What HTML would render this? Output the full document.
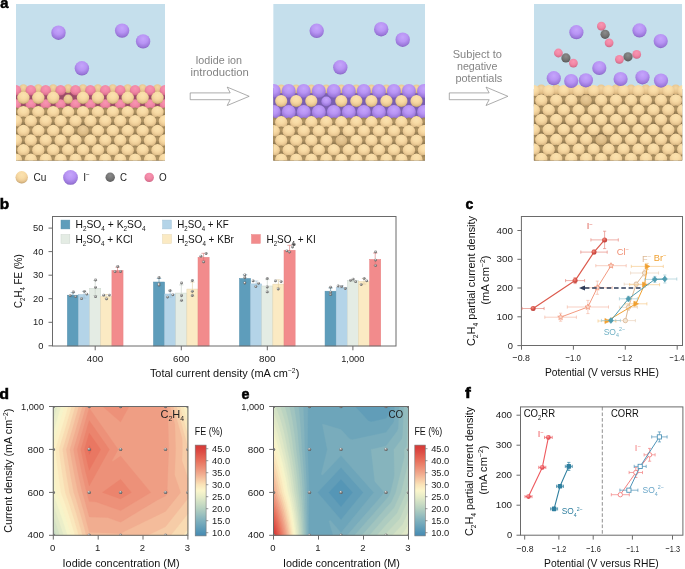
<!DOCTYPE html>
<html><head><meta charset="utf-8"><title>Figure</title>
<style>html,body{margin:0;padding:0;background:#fff}svg{display:block}text{white-space:pre}</style>
</head><body>
<svg width="685" height="569" viewBox="0 0 685 569" font-family='"Liberation Sans", Arial, Helvetica, sans-serif'>
<defs>
<radialGradient id="gcu" cx="0.5" cy="0.3" r="0.74" fx="0.5" fy="0.3"><stop offset="0" stop-color="#fbe2b0"/><stop offset="0.38" stop-color="#f8dba5"/><stop offset="0.62" stop-color="#efce99"/><stop offset="0.8" stop-color="#ddbc87"/><stop offset="0.92" stop-color="#c4a16d"/><stop offset="1" stop-color="#a08153"/></radialGradient>
<radialGradient id="gcuv" cx="0.5" cy="0.32" r="0.72" fx="0.5" fy="0.32"><stop offset="0" stop-color="#eccf9c"/><stop offset="0.6" stop-color="#dcbb86"/><stop offset="1" stop-color="#b8955f"/></radialGradient>
<radialGradient id="gcub" cx="0.5" cy="0.32" r="0.72" fx="0.5" fy="0.32"><stop offset="0" stop-color="#b59866"/><stop offset="0.6" stop-color="#917950"/><stop offset="1" stop-color="#6a5637"/></radialGradient>
<radialGradient id="gcut" cx="0.5" cy="0.32" r="0.72" fx="0.5" fy="0.32"><stop offset="0" stop-color="#f3d7a3"/><stop offset="0.6" stop-color="#e6c38c"/><stop offset="1" stop-color="#c4a06c"/></radialGradient>
<radialGradient id="go" cx="0.5" cy="0.32" r="0.72" fx="0.5" fy="0.32"><stop offset="0" stop-color="#f895b2"/><stop offset="0.5" stop-color="#f187a5"/><stop offset="0.8" stop-color="#de7392"/><stop offset="1" stop-color="#b95976"/></radialGradient>
<radialGradient id="gi" cx="0.5" cy="0.32" r="0.72" fx="0.5" fy="0.32"><stop offset="0" stop-color="#c5a5fb"/><stop offset="0.45" stop-color="#b894f4"/><stop offset="0.8" stop-color="#9b78da"/><stop offset="1" stop-color="#7d5bba"/></radialGradient>
<radialGradient id="gc" cx="0.5" cy="0.32" r="0.72" fx="0.5" fy="0.32"><stop offset="0" stop-color="#8c8c8c"/><stop offset="0.6" stop-color="#727272"/><stop offset="1" stop-color="#555555"/></radialGradient>
<radialGradient id="gd" cx="0.38" cy="0.32" r="0.7" fx="0.38" fy="0.32"><stop offset="0" stop-color="#f4f4f4"/><stop offset="0.35" stop-color="#9a9a9a"/><stop offset="1" stop-color="#555555"/></radialGradient>
</defs>
<rect width="685" height="569" fill="#fff"/>
<clipPath id="cp1"><rect x="16" y="4" width="149" height="156.6"/></clipPath>
<g clip-path="url(#cp1)">
<rect x="16" y="4" width="149" height="156.6" fill="#c5dfec"/>
<rect x="10" y="88" width="160" height="20" fill="#9c4d68"/>
<rect x="10" y="106" width="160" height="60" fill="#6f5a3a"/>
<circle cx="-6.4" cy="88.6" r="4.3" fill="url(#gcut)"/>
<circle cx="8.5" cy="88.6" r="4.3" fill="url(#gcut)"/>
<circle cx="23.4" cy="88.6" r="4.3" fill="url(#gcut)"/>
<circle cx="38.3" cy="88.6" r="4.3" fill="url(#gcut)"/>
<circle cx="53.2" cy="88.6" r="4.3" fill="url(#gcut)"/>
<circle cx="68.1" cy="88.6" r="4.3" fill="url(#gcut)"/>
<circle cx="83.0" cy="88.6" r="4.3" fill="url(#gcut)"/>
<circle cx="97.9" cy="88.6" r="4.3" fill="url(#gcut)"/>
<circle cx="112.8" cy="88.6" r="4.3" fill="url(#gcut)"/>
<circle cx="127.7" cy="88.6" r="4.3" fill="url(#gcut)"/>
<circle cx="142.6" cy="88.6" r="4.3" fill="url(#gcut)"/>
<circle cx="157.5" cy="88.6" r="4.3" fill="url(#gcut)"/>
<circle cx="172.4" cy="88.6" r="4.3" fill="url(#gcut)"/>
<circle cx="187.3" cy="88.6" r="4.3" fill="url(#gcut)"/>
<circle cx="202.2" cy="88.6" r="4.3" fill="url(#gcut)"/>
<circle cx="1.0" cy="90.2" r="5.2" fill="url(#go)"/>
<circle cx="15.9" cy="90.2" r="5.2" fill="url(#go)"/>
<circle cx="30.8" cy="90.2" r="5.2" fill="url(#go)"/>
<circle cx="45.7" cy="90.2" r="5.2" fill="url(#go)"/>
<circle cx="60.6" cy="90.2" r="5.2" fill="url(#go)"/>
<circle cx="75.5" cy="90.2" r="5.2" fill="url(#go)"/>
<circle cx="90.4" cy="90.2" r="5.2" fill="url(#go)"/>
<circle cx="105.3" cy="90.2" r="5.2" fill="url(#go)"/>
<circle cx="120.2" cy="90.2" r="5.2" fill="url(#go)"/>
<circle cx="135.1" cy="90.2" r="5.2" fill="url(#go)"/>
<circle cx="150.0" cy="90.2" r="5.2" fill="url(#go)"/>
<circle cx="164.9" cy="90.2" r="5.2" fill="url(#go)"/>
<circle cx="179.8" cy="90.2" r="5.2" fill="url(#go)"/>
<circle cx="194.7" cy="90.2" r="5.2" fill="url(#go)"/>
<circle cx="209.6" cy="90.2" r="5.2" fill="url(#go)"/>
<circle cx="1.0" cy="104.5" r="5.2" fill="url(#go)"/>
<circle cx="15.9" cy="104.5" r="5.2" fill="url(#go)"/>
<circle cx="30.8" cy="104.5" r="5.2" fill="url(#go)"/>
<circle cx="45.7" cy="104.5" r="5.2" fill="url(#go)"/>
<circle cx="60.6" cy="104.5" r="5.2" fill="url(#go)"/>
<circle cx="75.5" cy="104.5" r="5.2" fill="url(#go)"/>
<circle cx="90.4" cy="104.5" r="5.2" fill="url(#go)"/>
<circle cx="105.3" cy="104.5" r="5.2" fill="url(#go)"/>
<circle cx="120.2" cy="104.5" r="5.2" fill="url(#go)"/>
<circle cx="135.1" cy="104.5" r="5.2" fill="url(#go)"/>
<circle cx="150.0" cy="104.5" r="5.2" fill="url(#go)"/>
<circle cx="164.9" cy="104.5" r="5.2" fill="url(#go)"/>
<circle cx="179.8" cy="104.5" r="5.2" fill="url(#go)"/>
<circle cx="194.7" cy="104.5" r="5.2" fill="url(#go)"/>
<circle cx="209.6" cy="104.5" r="5.2" fill="url(#go)"/>
<circle cx="-6.4" cy="97.8" r="6.2" fill="url(#gcu)"/>
<circle cx="8.5" cy="97.8" r="6.2" fill="url(#gcu)"/>
<circle cx="23.4" cy="97.8" r="6.2" fill="url(#gcu)"/>
<circle cx="38.3" cy="97.8" r="6.2" fill="url(#gcu)"/>
<circle cx="53.2" cy="97.8" r="6.2" fill="url(#gcu)"/>
<circle cx="68.1" cy="99.2" r="4.6" fill="url(#gcut)"/>
<circle cx="83.0" cy="97.8" r="6.2" fill="url(#gcu)"/>
<circle cx="97.9" cy="97.8" r="6.2" fill="url(#gcu)"/>
<circle cx="112.8" cy="97.8" r="6.2" fill="url(#gcu)"/>
<circle cx="127.7" cy="97.8" r="6.2" fill="url(#gcu)"/>
<circle cx="142.6" cy="97.8" r="6.2" fill="url(#gcu)"/>
<circle cx="157.5" cy="97.8" r="6.2" fill="url(#gcu)"/>
<circle cx="172.4" cy="97.8" r="6.2" fill="url(#gcu)"/>
<circle cx="187.3" cy="97.8" r="6.2" fill="url(#gcu)"/>
<circle cx="202.2" cy="97.8" r="6.2" fill="url(#gcu)"/>
<circle cx="1.0" cy="112.6" r="5.2" fill="url(#gcub)"/>
<circle cx="15.9" cy="112.6" r="5.2" fill="url(#gcub)"/>
<circle cx="30.8" cy="112.6" r="5.2" fill="url(#gcub)"/>
<circle cx="45.7" cy="112.6" r="5.2" fill="url(#gcub)"/>
<circle cx="60.6" cy="112.6" r="5.2" fill="url(#gcub)"/>
<circle cx="75.5" cy="112.6" r="5.2" fill="url(#gcub)"/>
<circle cx="90.4" cy="112.6" r="5.2" fill="url(#gcub)"/>
<circle cx="105.3" cy="112.6" r="5.2" fill="url(#gcub)"/>
<circle cx="120.2" cy="112.6" r="5.2" fill="url(#gcub)"/>
<circle cx="135.1" cy="112.6" r="5.2" fill="url(#gcub)"/>
<circle cx="150.0" cy="112.6" r="5.2" fill="url(#gcub)"/>
<circle cx="164.9" cy="112.6" r="5.2" fill="url(#gcub)"/>
<circle cx="179.8" cy="112.6" r="5.2" fill="url(#gcub)"/>
<circle cx="194.7" cy="112.6" r="5.2" fill="url(#gcub)"/>
<circle cx="209.6" cy="112.6" r="5.2" fill="url(#gcub)"/>
<circle cx="-6.4" cy="112.1" r="6.2" fill="url(#gcu)"/>
<circle cx="8.5" cy="112.1" r="6.2" fill="url(#gcu)"/>
<circle cx="23.4" cy="112.1" r="6.2" fill="url(#gcu)"/>
<circle cx="38.3" cy="112.1" r="6.2" fill="url(#gcu)"/>
<circle cx="53.2" cy="112.1" r="6.2" fill="url(#gcu)"/>
<circle cx="68.1" cy="112.1" r="6.2" fill="url(#gcu)"/>
<circle cx="83.0" cy="112.1" r="6.2" fill="url(#gcu)"/>
<circle cx="97.9" cy="112.1" r="6.2" fill="url(#gcu)"/>
<circle cx="112.8" cy="112.1" r="6.2" fill="url(#gcu)"/>
<circle cx="127.7" cy="112.1" r="6.2" fill="url(#gcu)"/>
<circle cx="142.6" cy="112.1" r="6.2" fill="url(#gcu)"/>
<circle cx="157.5" cy="112.1" r="6.2" fill="url(#gcu)"/>
<circle cx="172.4" cy="112.1" r="6.2" fill="url(#gcu)"/>
<circle cx="187.3" cy="112.1" r="6.2" fill="url(#gcu)"/>
<circle cx="202.2" cy="112.1" r="6.2" fill="url(#gcu)"/>
<circle cx="-6.4" cy="121.7" r="5.2" fill="url(#gcub)"/>
<circle cx="8.5" cy="121.7" r="5.2" fill="url(#gcub)"/>
<circle cx="23.4" cy="121.7" r="5.2" fill="url(#gcub)"/>
<circle cx="38.3" cy="121.7" r="5.2" fill="url(#gcub)"/>
<circle cx="53.2" cy="121.7" r="5.2" fill="url(#gcub)"/>
<circle cx="68.1" cy="121.7" r="5.2" fill="url(#gcub)"/>
<circle cx="83.0" cy="121.7" r="5.2" fill="url(#gcub)"/>
<circle cx="97.9" cy="121.7" r="5.2" fill="url(#gcub)"/>
<circle cx="112.8" cy="121.7" r="5.2" fill="url(#gcub)"/>
<circle cx="127.7" cy="121.7" r="5.2" fill="url(#gcub)"/>
<circle cx="142.6" cy="121.7" r="5.2" fill="url(#gcub)"/>
<circle cx="157.5" cy="121.7" r="5.2" fill="url(#gcub)"/>
<circle cx="172.4" cy="121.7" r="5.2" fill="url(#gcub)"/>
<circle cx="187.3" cy="121.7" r="5.2" fill="url(#gcub)"/>
<circle cx="202.2" cy="121.7" r="5.2" fill="url(#gcub)"/>
<circle cx="1.0" cy="121.2" r="6.2" fill="url(#gcu)"/>
<circle cx="15.9" cy="121.2" r="6.2" fill="url(#gcu)"/>
<circle cx="30.8" cy="121.2" r="6.2" fill="url(#gcu)"/>
<circle cx="45.7" cy="121.2" r="6.2" fill="url(#gcu)"/>
<circle cx="60.6" cy="121.2" r="6.2" fill="url(#gcu)"/>
<circle cx="75.5" cy="121.2" r="6.2" fill="url(#gcu)"/>
<circle cx="90.4" cy="121.2" r="6.2" fill="url(#gcu)"/>
<circle cx="105.3" cy="121.2" r="6.2" fill="url(#gcu)"/>
<circle cx="120.2" cy="121.2" r="6.2" fill="url(#gcu)"/>
<circle cx="135.1" cy="121.2" r="6.2" fill="url(#gcu)"/>
<circle cx="150.0" cy="121.2" r="6.2" fill="url(#gcu)"/>
<circle cx="164.9" cy="121.2" r="6.2" fill="url(#gcu)"/>
<circle cx="179.8" cy="121.2" r="6.2" fill="url(#gcu)"/>
<circle cx="194.7" cy="121.2" r="6.2" fill="url(#gcu)"/>
<circle cx="209.6" cy="121.2" r="6.2" fill="url(#gcu)"/>
<circle cx="1.0" cy="131.4" r="5.2" fill="url(#gcub)"/>
<circle cx="15.9" cy="131.4" r="5.2" fill="url(#gcub)"/>
<circle cx="30.8" cy="131.4" r="5.2" fill="url(#gcub)"/>
<circle cx="45.7" cy="131.4" r="5.2" fill="url(#gcub)"/>
<circle cx="60.6" cy="131.4" r="5.2" fill="url(#gcub)"/>
<circle cx="75.5" cy="131.4" r="5.2" fill="url(#gcub)"/>
<circle cx="90.4" cy="131.4" r="5.2" fill="url(#gcub)"/>
<circle cx="105.3" cy="131.4" r="5.2" fill="url(#gcub)"/>
<circle cx="120.2" cy="131.4" r="5.2" fill="url(#gcub)"/>
<circle cx="135.1" cy="131.4" r="5.2" fill="url(#gcub)"/>
<circle cx="150.0" cy="131.4" r="5.2" fill="url(#gcub)"/>
<circle cx="164.9" cy="131.4" r="5.2" fill="url(#gcub)"/>
<circle cx="179.8" cy="131.4" r="5.2" fill="url(#gcub)"/>
<circle cx="194.7" cy="131.4" r="5.2" fill="url(#gcub)"/>
<circle cx="209.6" cy="131.4" r="5.2" fill="url(#gcub)"/>
<circle cx="-6.4" cy="130.9" r="6.2" fill="url(#gcu)"/>
<circle cx="8.5" cy="130.9" r="6.2" fill="url(#gcu)"/>
<circle cx="23.4" cy="130.9" r="6.2" fill="url(#gcu)"/>
<circle cx="38.3" cy="130.9" r="6.2" fill="url(#gcu)"/>
<circle cx="53.2" cy="130.9" r="6.2" fill="url(#gcu)"/>
<circle cx="68.1" cy="130.9" r="6.2" fill="url(#gcu)"/>
<circle cx="83.0" cy="130.9" r="5.9" fill="url(#gcuv)"/>
<circle cx="97.9" cy="130.9" r="6.2" fill="url(#gcu)"/>
<circle cx="112.8" cy="130.9" r="6.2" fill="url(#gcu)"/>
<circle cx="127.7" cy="130.9" r="6.2" fill="url(#gcu)"/>
<circle cx="142.6" cy="130.9" r="6.2" fill="url(#gcu)"/>
<circle cx="157.5" cy="130.9" r="6.2" fill="url(#gcu)"/>
<circle cx="172.4" cy="130.9" r="6.2" fill="url(#gcu)"/>
<circle cx="187.3" cy="130.9" r="6.2" fill="url(#gcu)"/>
<circle cx="202.2" cy="130.9" r="6.2" fill="url(#gcu)"/>
<circle cx="-6.4" cy="141.0" r="5.2" fill="url(#gcub)"/>
<circle cx="8.5" cy="141.0" r="5.2" fill="url(#gcub)"/>
<circle cx="23.4" cy="141.0" r="5.2" fill="url(#gcub)"/>
<circle cx="38.3" cy="141.0" r="5.2" fill="url(#gcub)"/>
<circle cx="53.2" cy="141.0" r="5.2" fill="url(#gcub)"/>
<circle cx="68.1" cy="141.0" r="5.2" fill="url(#gcub)"/>
<circle cx="83.0" cy="141.0" r="5.2" fill="url(#gcub)"/>
<circle cx="97.9" cy="141.0" r="5.2" fill="url(#gcub)"/>
<circle cx="112.8" cy="141.0" r="5.2" fill="url(#gcub)"/>
<circle cx="127.7" cy="141.0" r="5.2" fill="url(#gcub)"/>
<circle cx="142.6" cy="141.0" r="5.2" fill="url(#gcub)"/>
<circle cx="157.5" cy="141.0" r="5.2" fill="url(#gcub)"/>
<circle cx="172.4" cy="141.0" r="5.2" fill="url(#gcub)"/>
<circle cx="187.3" cy="141.0" r="5.2" fill="url(#gcub)"/>
<circle cx="202.2" cy="141.0" r="5.2" fill="url(#gcub)"/>
<circle cx="1.0" cy="140.5" r="6.2" fill="url(#gcu)"/>
<circle cx="15.9" cy="140.5" r="6.2" fill="url(#gcu)"/>
<circle cx="30.8" cy="140.5" r="6.2" fill="url(#gcu)"/>
<circle cx="45.7" cy="140.5" r="6.2" fill="url(#gcu)"/>
<circle cx="60.6" cy="140.5" r="6.2" fill="url(#gcu)"/>
<circle cx="75.5" cy="140.5" r="6.2" fill="url(#gcu)"/>
<circle cx="90.4" cy="140.5" r="6.2" fill="url(#gcu)"/>
<circle cx="105.3" cy="140.5" r="6.2" fill="url(#gcu)"/>
<circle cx="120.2" cy="140.5" r="6.2" fill="url(#gcu)"/>
<circle cx="135.1" cy="140.5" r="6.2" fill="url(#gcu)"/>
<circle cx="150.0" cy="140.5" r="6.2" fill="url(#gcu)"/>
<circle cx="164.9" cy="140.5" r="6.2" fill="url(#gcu)"/>
<circle cx="179.8" cy="140.5" r="6.2" fill="url(#gcu)"/>
<circle cx="194.7" cy="140.5" r="6.2" fill="url(#gcu)"/>
<circle cx="209.6" cy="140.5" r="6.2" fill="url(#gcu)"/>
<circle cx="1.0" cy="150.7" r="5.2" fill="url(#gcub)"/>
<circle cx="15.9" cy="150.7" r="5.2" fill="url(#gcub)"/>
<circle cx="30.8" cy="150.7" r="5.2" fill="url(#gcub)"/>
<circle cx="45.7" cy="150.7" r="5.2" fill="url(#gcub)"/>
<circle cx="60.6" cy="150.7" r="5.2" fill="url(#gcub)"/>
<circle cx="75.5" cy="150.7" r="5.2" fill="url(#gcub)"/>
<circle cx="90.4" cy="150.7" r="5.2" fill="url(#gcub)"/>
<circle cx="105.3" cy="150.7" r="5.2" fill="url(#gcub)"/>
<circle cx="120.2" cy="150.7" r="5.2" fill="url(#gcub)"/>
<circle cx="135.1" cy="150.7" r="5.2" fill="url(#gcub)"/>
<circle cx="150.0" cy="150.7" r="5.2" fill="url(#gcub)"/>
<circle cx="164.9" cy="150.7" r="5.2" fill="url(#gcub)"/>
<circle cx="179.8" cy="150.7" r="5.2" fill="url(#gcub)"/>
<circle cx="194.7" cy="150.7" r="5.2" fill="url(#gcub)"/>
<circle cx="209.6" cy="150.7" r="5.2" fill="url(#gcub)"/>
<circle cx="-6.4" cy="150.2" r="6.2" fill="url(#gcu)"/>
<circle cx="8.5" cy="150.2" r="6.2" fill="url(#gcu)"/>
<circle cx="23.4" cy="150.2" r="6.2" fill="url(#gcu)"/>
<circle cx="38.3" cy="150.2" r="6.2" fill="url(#gcu)"/>
<circle cx="53.2" cy="150.2" r="6.2" fill="url(#gcu)"/>
<circle cx="68.1" cy="150.2" r="6.2" fill="url(#gcu)"/>
<circle cx="83.0" cy="150.2" r="6.2" fill="url(#gcu)"/>
<circle cx="97.9" cy="150.2" r="6.2" fill="url(#gcu)"/>
<circle cx="112.8" cy="150.2" r="6.2" fill="url(#gcu)"/>
<circle cx="127.7" cy="150.2" r="6.2" fill="url(#gcu)"/>
<circle cx="142.6" cy="150.2" r="6.2" fill="url(#gcu)"/>
<circle cx="157.5" cy="150.2" r="6.2" fill="url(#gcu)"/>
<circle cx="172.4" cy="150.2" r="6.2" fill="url(#gcu)"/>
<circle cx="187.3" cy="150.2" r="6.2" fill="url(#gcu)"/>
<circle cx="202.2" cy="150.2" r="6.2" fill="url(#gcu)"/>
<circle cx="-6.4" cy="160.1" r="5.2" fill="url(#gcub)"/>
<circle cx="8.5" cy="160.1" r="5.2" fill="url(#gcub)"/>
<circle cx="23.4" cy="160.1" r="5.2" fill="url(#gcub)"/>
<circle cx="38.3" cy="160.1" r="5.2" fill="url(#gcub)"/>
<circle cx="53.2" cy="160.1" r="5.2" fill="url(#gcub)"/>
<circle cx="68.1" cy="160.1" r="5.2" fill="url(#gcub)"/>
<circle cx="83.0" cy="160.1" r="5.2" fill="url(#gcub)"/>
<circle cx="97.9" cy="160.1" r="5.2" fill="url(#gcub)"/>
<circle cx="112.8" cy="160.1" r="5.2" fill="url(#gcub)"/>
<circle cx="127.7" cy="160.1" r="5.2" fill="url(#gcub)"/>
<circle cx="142.6" cy="160.1" r="5.2" fill="url(#gcub)"/>
<circle cx="157.5" cy="160.1" r="5.2" fill="url(#gcub)"/>
<circle cx="172.4" cy="160.1" r="5.2" fill="url(#gcub)"/>
<circle cx="187.3" cy="160.1" r="5.2" fill="url(#gcub)"/>
<circle cx="202.2" cy="160.1" r="5.2" fill="url(#gcub)"/>
<circle cx="1.0" cy="159.6" r="6.2" fill="url(#gcu)"/>
<circle cx="15.9" cy="159.6" r="6.2" fill="url(#gcu)"/>
<circle cx="30.8" cy="159.6" r="6.2" fill="url(#gcu)"/>
<circle cx="45.7" cy="159.6" r="6.2" fill="url(#gcu)"/>
<circle cx="60.6" cy="159.6" r="6.2" fill="url(#gcu)"/>
<circle cx="75.5" cy="159.6" r="6.2" fill="url(#gcu)"/>
<circle cx="90.4" cy="159.6" r="6.2" fill="url(#gcu)"/>
<circle cx="105.3" cy="159.6" r="6.2" fill="url(#gcu)"/>
<circle cx="120.2" cy="159.6" r="6.2" fill="url(#gcu)"/>
<circle cx="135.1" cy="159.6" r="6.2" fill="url(#gcu)"/>
<circle cx="150.0" cy="159.6" r="6.2" fill="url(#gcu)"/>
<circle cx="164.9" cy="159.6" r="6.2" fill="url(#gcu)"/>
<circle cx="179.8" cy="159.6" r="6.2" fill="url(#gcu)"/>
<circle cx="194.7" cy="159.6" r="6.2" fill="url(#gcu)"/>
<circle cx="209.6" cy="159.6" r="6.2" fill="url(#gcu)"/>
</g>
<g>
<circle cx="58.5" cy="32.7" r="7.2" fill="url(#gi)"/>
<circle cx="122.1" cy="30.6" r="7.2" fill="url(#gi)"/>
<circle cx="143.1" cy="41.4" r="7.2" fill="url(#gi)"/>
<circle cx="81.9" cy="68.3" r="7.2" fill="url(#gi)"/>
</g>
<clipPath id="cp2"><rect x="273.2" y="4" width="151.8" height="156.5"/></clipPath>
<g clip-path="url(#cp2)">
<rect x="273.2" y="4" width="151.8" height="156.5" fill="#c5dfec"/>
<rect x="268" y="88" width="160" height="30" fill="#7a5fb0"/>
<rect x="268" y="116" width="160" height="50" fill="#6f5a3a"/>
<circle cx="251.1" cy="88.9" r="4.4" fill="url(#gcut)"/>
<circle cx="266.2" cy="88.9" r="4.4" fill="url(#gcut)"/>
<circle cx="281.2" cy="88.9" r="4.4" fill="url(#gcut)"/>
<circle cx="296.2" cy="88.9" r="4.4" fill="url(#gcut)"/>
<circle cx="311.3" cy="88.9" r="4.4" fill="url(#gcut)"/>
<circle cx="326.3" cy="88.9" r="4.4" fill="url(#gcut)"/>
<circle cx="341.3" cy="88.9" r="4.4" fill="url(#gcut)"/>
<circle cx="356.3" cy="88.9" r="4.4" fill="url(#gcut)"/>
<circle cx="371.4" cy="88.9" r="4.4" fill="url(#gcut)"/>
<circle cx="386.4" cy="88.9" r="4.4" fill="url(#gcut)"/>
<circle cx="401.4" cy="88.9" r="4.4" fill="url(#gcut)"/>
<circle cx="416.5" cy="88.9" r="4.4" fill="url(#gcut)"/>
<circle cx="431.5" cy="88.9" r="4.4" fill="url(#gcut)"/>
<circle cx="446.5" cy="88.9" r="4.4" fill="url(#gcut)"/>
<circle cx="461.6" cy="88.9" r="4.4" fill="url(#gcut)"/>
<circle cx="258.6" cy="91.0" r="7.0" fill="url(#gi)"/>
<circle cx="273.7" cy="91.0" r="7.0" fill="url(#gi)"/>
<circle cx="288.7" cy="91.0" r="7.0" fill="url(#gi)"/>
<circle cx="303.7" cy="91.0" r="7.0" fill="url(#gi)"/>
<circle cx="318.8" cy="91.0" r="7.0" fill="url(#gi)"/>
<circle cx="333.8" cy="91.0" r="7.0" fill="url(#gi)"/>
<circle cx="348.8" cy="91.0" r="7.0" fill="url(#gi)"/>
<circle cx="363.8" cy="91.0" r="7.0" fill="url(#gi)"/>
<circle cx="378.9" cy="91.0" r="7.0" fill="url(#gi)"/>
<circle cx="393.9" cy="91.0" r="7.0" fill="url(#gi)"/>
<circle cx="408.9" cy="91.0" r="7.0" fill="url(#gi)"/>
<circle cx="424.0" cy="91.0" r="7.0" fill="url(#gi)"/>
<circle cx="439.0" cy="91.0" r="7.0" fill="url(#gi)"/>
<circle cx="454.0" cy="91.0" r="7.0" fill="url(#gi)"/>
<circle cx="469.1" cy="91.0" r="7.0" fill="url(#gi)"/>
<circle cx="258.6" cy="112.0" r="7.0" fill="url(#gi)"/>
<circle cx="273.7" cy="112.0" r="7.0" fill="url(#gi)"/>
<circle cx="288.7" cy="112.0" r="7.0" fill="url(#gi)"/>
<circle cx="303.7" cy="112.0" r="7.0" fill="url(#gi)"/>
<circle cx="318.8" cy="112.0" r="7.0" fill="url(#gi)"/>
<circle cx="333.8" cy="112.0" r="7.0" fill="url(#gi)"/>
<circle cx="348.8" cy="112.0" r="7.0" fill="url(#gi)"/>
<circle cx="363.8" cy="112.0" r="7.0" fill="url(#gi)"/>
<circle cx="378.9" cy="112.0" r="7.0" fill="url(#gi)"/>
<circle cx="393.9" cy="112.0" r="7.0" fill="url(#gi)"/>
<circle cx="408.9" cy="112.0" r="7.0" fill="url(#gi)"/>
<circle cx="424.0" cy="112.0" r="7.0" fill="url(#gi)"/>
<circle cx="439.0" cy="112.0" r="7.0" fill="url(#gi)"/>
<circle cx="454.0" cy="112.0" r="7.0" fill="url(#gi)"/>
<circle cx="469.1" cy="112.0" r="7.0" fill="url(#gi)"/>
<circle cx="251.1" cy="101.0" r="6.1" fill="url(#gcu)"/>
<circle cx="266.2" cy="101.0" r="6.1" fill="url(#gcu)"/>
<circle cx="281.2" cy="101.0" r="6.1" fill="url(#gcu)"/>
<circle cx="296.2" cy="101.0" r="6.1" fill="url(#gcu)"/>
<circle cx="311.3" cy="101.0" r="6.1" fill="url(#gcu)"/>
<circle cx="326.3" cy="101.5" r="5.0" fill="url(#gi)"/>
<circle cx="341.3" cy="101.0" r="6.1" fill="url(#gcu)"/>
<circle cx="356.3" cy="101.0" r="6.1" fill="url(#gcu)"/>
<circle cx="371.4" cy="101.0" r="6.1" fill="url(#gcu)"/>
<circle cx="386.4" cy="101.0" r="6.1" fill="url(#gcu)"/>
<circle cx="401.4" cy="101.0" r="6.1" fill="url(#gcu)"/>
<circle cx="416.5" cy="101.0" r="6.1" fill="url(#gcu)"/>
<circle cx="431.5" cy="101.0" r="6.1" fill="url(#gcu)"/>
<circle cx="446.5" cy="101.0" r="6.1" fill="url(#gcu)"/>
<circle cx="461.6" cy="101.0" r="6.1" fill="url(#gcu)"/>
<circle cx="258.6" cy="122.8" r="5.2" fill="url(#gcub)"/>
<circle cx="273.7" cy="122.8" r="5.2" fill="url(#gcub)"/>
<circle cx="288.7" cy="122.8" r="5.2" fill="url(#gcub)"/>
<circle cx="303.7" cy="122.8" r="5.2" fill="url(#gcub)"/>
<circle cx="318.8" cy="122.8" r="5.2" fill="url(#gcub)"/>
<circle cx="333.8" cy="122.8" r="5.2" fill="url(#gcub)"/>
<circle cx="348.8" cy="122.8" r="5.2" fill="url(#gcub)"/>
<circle cx="363.8" cy="122.8" r="5.2" fill="url(#gcub)"/>
<circle cx="378.9" cy="122.8" r="5.2" fill="url(#gcub)"/>
<circle cx="393.9" cy="122.8" r="5.2" fill="url(#gcub)"/>
<circle cx="408.9" cy="122.8" r="5.2" fill="url(#gcub)"/>
<circle cx="424.0" cy="122.8" r="5.2" fill="url(#gcub)"/>
<circle cx="439.0" cy="122.8" r="5.2" fill="url(#gcub)"/>
<circle cx="454.0" cy="122.8" r="5.2" fill="url(#gcub)"/>
<circle cx="469.1" cy="122.8" r="5.2" fill="url(#gcub)"/>
<circle cx="251.1" cy="122.3" r="6.2" fill="url(#gcu)"/>
<circle cx="266.2" cy="122.3" r="6.2" fill="url(#gcu)"/>
<circle cx="281.2" cy="122.3" r="6.2" fill="url(#gcu)"/>
<circle cx="296.2" cy="122.3" r="6.2" fill="url(#gcu)"/>
<circle cx="311.3" cy="122.3" r="6.2" fill="url(#gcu)"/>
<circle cx="326.3" cy="122.3" r="6.2" fill="url(#gcu)"/>
<circle cx="341.3" cy="122.3" r="6.2" fill="url(#gcu)"/>
<circle cx="356.3" cy="122.3" r="6.2" fill="url(#gcu)"/>
<circle cx="371.4" cy="122.3" r="6.2" fill="url(#gcu)"/>
<circle cx="386.4" cy="122.3" r="6.2" fill="url(#gcu)"/>
<circle cx="401.4" cy="122.3" r="6.2" fill="url(#gcu)"/>
<circle cx="416.5" cy="122.3" r="6.2" fill="url(#gcu)"/>
<circle cx="431.5" cy="122.3" r="6.2" fill="url(#gcu)"/>
<circle cx="446.5" cy="122.3" r="6.2" fill="url(#gcu)"/>
<circle cx="461.6" cy="122.3" r="6.2" fill="url(#gcu)"/>
<circle cx="251.1" cy="131.7" r="5.2" fill="url(#gcub)"/>
<circle cx="266.2" cy="131.7" r="5.2" fill="url(#gcub)"/>
<circle cx="281.2" cy="131.7" r="5.2" fill="url(#gcub)"/>
<circle cx="296.2" cy="131.7" r="5.2" fill="url(#gcub)"/>
<circle cx="311.3" cy="131.7" r="5.2" fill="url(#gcub)"/>
<circle cx="326.3" cy="131.7" r="5.2" fill="url(#gcub)"/>
<circle cx="341.3" cy="131.7" r="5.2" fill="url(#gcub)"/>
<circle cx="356.3" cy="131.7" r="5.2" fill="url(#gcub)"/>
<circle cx="371.4" cy="131.7" r="5.2" fill="url(#gcub)"/>
<circle cx="386.4" cy="131.7" r="5.2" fill="url(#gcub)"/>
<circle cx="401.4" cy="131.7" r="5.2" fill="url(#gcub)"/>
<circle cx="416.5" cy="131.7" r="5.2" fill="url(#gcub)"/>
<circle cx="431.5" cy="131.7" r="5.2" fill="url(#gcub)"/>
<circle cx="446.5" cy="131.7" r="5.2" fill="url(#gcub)"/>
<circle cx="461.6" cy="131.7" r="5.2" fill="url(#gcub)"/>
<circle cx="258.6" cy="131.2" r="6.2" fill="url(#gcu)"/>
<circle cx="273.7" cy="131.2" r="6.2" fill="url(#gcu)"/>
<circle cx="288.7" cy="131.2" r="6.2" fill="url(#gcu)"/>
<circle cx="303.7" cy="131.2" r="6.2" fill="url(#gcu)"/>
<circle cx="318.8" cy="131.2" r="6.2" fill="url(#gcu)"/>
<circle cx="333.8" cy="131.2" r="6.2" fill="url(#gcu)"/>
<circle cx="348.8" cy="131.2" r="6.2" fill="url(#gcu)"/>
<circle cx="363.8" cy="131.2" r="6.2" fill="url(#gcu)"/>
<circle cx="378.9" cy="131.2" r="6.2" fill="url(#gcu)"/>
<circle cx="393.9" cy="131.2" r="6.2" fill="url(#gcu)"/>
<circle cx="408.9" cy="131.2" r="6.2" fill="url(#gcu)"/>
<circle cx="424.0" cy="131.2" r="6.2" fill="url(#gcu)"/>
<circle cx="439.0" cy="131.2" r="6.2" fill="url(#gcu)"/>
<circle cx="454.0" cy="131.2" r="6.2" fill="url(#gcu)"/>
<circle cx="469.1" cy="131.2" r="6.2" fill="url(#gcu)"/>
<circle cx="258.6" cy="141.2" r="5.2" fill="url(#gcub)"/>
<circle cx="273.7" cy="141.2" r="5.2" fill="url(#gcub)"/>
<circle cx="288.7" cy="141.2" r="5.2" fill="url(#gcub)"/>
<circle cx="303.7" cy="141.2" r="5.2" fill="url(#gcub)"/>
<circle cx="318.8" cy="141.2" r="5.2" fill="url(#gcub)"/>
<circle cx="333.8" cy="141.2" r="5.2" fill="url(#gcub)"/>
<circle cx="348.8" cy="141.2" r="5.2" fill="url(#gcub)"/>
<circle cx="363.8" cy="141.2" r="5.2" fill="url(#gcub)"/>
<circle cx="378.9" cy="141.2" r="5.2" fill="url(#gcub)"/>
<circle cx="393.9" cy="141.2" r="5.2" fill="url(#gcub)"/>
<circle cx="408.9" cy="141.2" r="5.2" fill="url(#gcub)"/>
<circle cx="424.0" cy="141.2" r="5.2" fill="url(#gcub)"/>
<circle cx="439.0" cy="141.2" r="5.2" fill="url(#gcub)"/>
<circle cx="454.0" cy="141.2" r="5.2" fill="url(#gcub)"/>
<circle cx="469.1" cy="141.2" r="5.2" fill="url(#gcub)"/>
<circle cx="251.1" cy="140.7" r="6.2" fill="url(#gcu)"/>
<circle cx="266.2" cy="140.7" r="6.2" fill="url(#gcu)"/>
<circle cx="281.2" cy="140.7" r="6.2" fill="url(#gcu)"/>
<circle cx="296.2" cy="140.7" r="6.2" fill="url(#gcu)"/>
<circle cx="311.3" cy="140.7" r="6.2" fill="url(#gcu)"/>
<circle cx="326.3" cy="140.7" r="6.2" fill="url(#gcu)"/>
<circle cx="341.3" cy="140.7" r="5.9" fill="url(#gcuv)"/>
<circle cx="356.3" cy="140.7" r="6.2" fill="url(#gcu)"/>
<circle cx="371.4" cy="140.7" r="6.2" fill="url(#gcu)"/>
<circle cx="386.4" cy="140.7" r="6.2" fill="url(#gcu)"/>
<circle cx="401.4" cy="140.7" r="6.2" fill="url(#gcu)"/>
<circle cx="416.5" cy="140.7" r="6.2" fill="url(#gcu)"/>
<circle cx="431.5" cy="140.7" r="6.2" fill="url(#gcu)"/>
<circle cx="446.5" cy="140.7" r="6.2" fill="url(#gcu)"/>
<circle cx="461.6" cy="140.7" r="6.2" fill="url(#gcu)"/>
<circle cx="251.1" cy="150.7" r="5.2" fill="url(#gcub)"/>
<circle cx="266.2" cy="150.7" r="5.2" fill="url(#gcub)"/>
<circle cx="281.2" cy="150.7" r="5.2" fill="url(#gcub)"/>
<circle cx="296.2" cy="150.7" r="5.2" fill="url(#gcub)"/>
<circle cx="311.3" cy="150.7" r="5.2" fill="url(#gcub)"/>
<circle cx="326.3" cy="150.7" r="5.2" fill="url(#gcub)"/>
<circle cx="341.3" cy="150.7" r="5.2" fill="url(#gcub)"/>
<circle cx="356.3" cy="150.7" r="5.2" fill="url(#gcub)"/>
<circle cx="371.4" cy="150.7" r="5.2" fill="url(#gcub)"/>
<circle cx="386.4" cy="150.7" r="5.2" fill="url(#gcub)"/>
<circle cx="401.4" cy="150.7" r="5.2" fill="url(#gcub)"/>
<circle cx="416.5" cy="150.7" r="5.2" fill="url(#gcub)"/>
<circle cx="431.5" cy="150.7" r="5.2" fill="url(#gcub)"/>
<circle cx="446.5" cy="150.7" r="5.2" fill="url(#gcub)"/>
<circle cx="461.6" cy="150.7" r="5.2" fill="url(#gcub)"/>
<circle cx="258.6" cy="150.2" r="6.2" fill="url(#gcu)"/>
<circle cx="273.7" cy="150.2" r="6.2" fill="url(#gcu)"/>
<circle cx="288.7" cy="150.2" r="6.2" fill="url(#gcu)"/>
<circle cx="303.7" cy="150.2" r="6.2" fill="url(#gcu)"/>
<circle cx="318.8" cy="150.2" r="6.2" fill="url(#gcu)"/>
<circle cx="333.8" cy="150.2" r="6.2" fill="url(#gcu)"/>
<circle cx="348.8" cy="150.2" r="6.2" fill="url(#gcu)"/>
<circle cx="363.8" cy="150.2" r="6.2" fill="url(#gcu)"/>
<circle cx="378.9" cy="150.2" r="6.2" fill="url(#gcu)"/>
<circle cx="393.9" cy="150.2" r="6.2" fill="url(#gcu)"/>
<circle cx="408.9" cy="150.2" r="6.2" fill="url(#gcu)"/>
<circle cx="424.0" cy="150.2" r="6.2" fill="url(#gcu)"/>
<circle cx="439.0" cy="150.2" r="6.2" fill="url(#gcu)"/>
<circle cx="454.0" cy="150.2" r="6.2" fill="url(#gcu)"/>
<circle cx="469.1" cy="150.2" r="6.2" fill="url(#gcu)"/>
<circle cx="258.6" cy="160.2" r="5.2" fill="url(#gcub)"/>
<circle cx="273.7" cy="160.2" r="5.2" fill="url(#gcub)"/>
<circle cx="288.7" cy="160.2" r="5.2" fill="url(#gcub)"/>
<circle cx="303.7" cy="160.2" r="5.2" fill="url(#gcub)"/>
<circle cx="318.8" cy="160.2" r="5.2" fill="url(#gcub)"/>
<circle cx="333.8" cy="160.2" r="5.2" fill="url(#gcub)"/>
<circle cx="348.8" cy="160.2" r="5.2" fill="url(#gcub)"/>
<circle cx="363.8" cy="160.2" r="5.2" fill="url(#gcub)"/>
<circle cx="378.9" cy="160.2" r="5.2" fill="url(#gcub)"/>
<circle cx="393.9" cy="160.2" r="5.2" fill="url(#gcub)"/>
<circle cx="408.9" cy="160.2" r="5.2" fill="url(#gcub)"/>
<circle cx="424.0" cy="160.2" r="5.2" fill="url(#gcub)"/>
<circle cx="439.0" cy="160.2" r="5.2" fill="url(#gcub)"/>
<circle cx="454.0" cy="160.2" r="5.2" fill="url(#gcub)"/>
<circle cx="469.1" cy="160.2" r="5.2" fill="url(#gcub)"/>
<circle cx="251.1" cy="159.7" r="6.2" fill="url(#gcu)"/>
<circle cx="266.2" cy="159.7" r="6.2" fill="url(#gcu)"/>
<circle cx="281.2" cy="159.7" r="6.2" fill="url(#gcu)"/>
<circle cx="296.2" cy="159.7" r="6.2" fill="url(#gcu)"/>
<circle cx="311.3" cy="159.7" r="6.2" fill="url(#gcu)"/>
<circle cx="326.3" cy="159.7" r="6.2" fill="url(#gcu)"/>
<circle cx="341.3" cy="159.7" r="6.2" fill="url(#gcu)"/>
<circle cx="356.3" cy="159.7" r="6.2" fill="url(#gcu)"/>
<circle cx="371.4" cy="159.7" r="6.2" fill="url(#gcu)"/>
<circle cx="386.4" cy="159.7" r="6.2" fill="url(#gcu)"/>
<circle cx="401.4" cy="159.7" r="6.2" fill="url(#gcu)"/>
<circle cx="416.5" cy="159.7" r="6.2" fill="url(#gcu)"/>
<circle cx="431.5" cy="159.7" r="6.2" fill="url(#gcu)"/>
<circle cx="446.5" cy="159.7" r="6.2" fill="url(#gcu)"/>
<circle cx="461.6" cy="159.7" r="6.2" fill="url(#gcu)"/>
</g>
<clipPath id="cp3"><rect x="533.9" y="4" width="148.30000000000007" height="156.4"/></clipPath>
<g clip-path="url(#cp3)">
<rect x="533.9" y="4" width="148.30000000000007" height="156.4" fill="#c5dfec"/>
<rect x="530" y="89" width="160" height="80" fill="#6f5a3a"/>
<circle cx="511.4" cy="89.6" r="5.0" fill="url(#gcut)"/>
<circle cx="526.3" cy="89.6" r="5.0" fill="url(#gcut)"/>
<circle cx="541.3" cy="89.6" r="5.0" fill="url(#gcut)"/>
<circle cx="556.2" cy="89.6" r="5.0" fill="url(#gcut)"/>
<circle cx="571.2" cy="89.6" r="5.0" fill="url(#gcut)"/>
<circle cx="586.1" cy="89.6" r="5.0" fill="url(#gcut)"/>
<circle cx="601.1" cy="89.6" r="5.0" fill="url(#gcut)"/>
<circle cx="616.0" cy="89.6" r="5.0" fill="url(#gcut)"/>
<circle cx="631.0" cy="89.6" r="5.0" fill="url(#gcut)"/>
<circle cx="645.9" cy="89.6" r="5.0" fill="url(#gcut)"/>
<circle cx="660.9" cy="89.6" r="5.0" fill="url(#gcut)"/>
<circle cx="675.8" cy="89.6" r="5.0" fill="url(#gcut)"/>
<circle cx="690.8" cy="89.6" r="5.0" fill="url(#gcut)"/>
<circle cx="705.8" cy="89.6" r="5.0" fill="url(#gcut)"/>
<circle cx="720.7" cy="89.6" r="5.0" fill="url(#gcut)"/>
<circle cx="518.8" cy="91.1" r="6.1" fill="url(#gcu)"/>
<circle cx="533.8" cy="91.1" r="6.1" fill="url(#gcu)"/>
<circle cx="548.7" cy="91.1" r="6.1" fill="url(#gcu)"/>
<circle cx="563.7" cy="91.1" r="6.1" fill="url(#gcu)"/>
<circle cx="578.6" cy="91.1" r="6.1" fill="url(#gcu)"/>
<circle cx="593.6" cy="91.1" r="6.1" fill="url(#gcu)"/>
<circle cx="608.5" cy="91.1" r="6.1" fill="url(#gcu)"/>
<circle cx="623.5" cy="91.1" r="6.1" fill="url(#gcu)"/>
<circle cx="638.4" cy="91.1" r="6.1" fill="url(#gcu)"/>
<circle cx="653.4" cy="91.1" r="6.1" fill="url(#gcu)"/>
<circle cx="668.3" cy="91.1" r="6.1" fill="url(#gcu)"/>
<circle cx="683.2" cy="91.1" r="6.1" fill="url(#gcu)"/>
<circle cx="698.2" cy="91.1" r="6.1" fill="url(#gcu)"/>
<circle cx="713.2" cy="91.1" r="6.1" fill="url(#gcu)"/>
<circle cx="728.1" cy="91.1" r="6.1" fill="url(#gcu)"/>
<circle cx="518.8" cy="101.0" r="5.2" fill="url(#gcub)"/>
<circle cx="533.8" cy="101.0" r="5.2" fill="url(#gcub)"/>
<circle cx="548.7" cy="101.0" r="5.2" fill="url(#gcub)"/>
<circle cx="563.7" cy="101.0" r="5.2" fill="url(#gcub)"/>
<circle cx="578.6" cy="101.0" r="5.2" fill="url(#gcub)"/>
<circle cx="593.6" cy="101.0" r="5.2" fill="url(#gcub)"/>
<circle cx="608.5" cy="101.0" r="5.2" fill="url(#gcub)"/>
<circle cx="623.5" cy="101.0" r="5.2" fill="url(#gcub)"/>
<circle cx="638.4" cy="101.0" r="5.2" fill="url(#gcub)"/>
<circle cx="653.4" cy="101.0" r="5.2" fill="url(#gcub)"/>
<circle cx="668.3" cy="101.0" r="5.2" fill="url(#gcub)"/>
<circle cx="683.2" cy="101.0" r="5.2" fill="url(#gcub)"/>
<circle cx="698.2" cy="101.0" r="5.2" fill="url(#gcub)"/>
<circle cx="713.2" cy="101.0" r="5.2" fill="url(#gcub)"/>
<circle cx="728.1" cy="101.0" r="5.2" fill="url(#gcub)"/>
<circle cx="511.4" cy="100.5" r="6.2" fill="url(#gcu)"/>
<circle cx="526.3" cy="100.5" r="6.2" fill="url(#gcu)"/>
<circle cx="541.3" cy="100.5" r="6.2" fill="url(#gcu)"/>
<circle cx="556.2" cy="100.5" r="6.2" fill="url(#gcu)"/>
<circle cx="571.2" cy="100.5" r="6.2" fill="url(#gcu)"/>
<circle cx="586.1" cy="100.5" r="5.9" fill="url(#gcuv)"/>
<circle cx="601.1" cy="100.5" r="6.2" fill="url(#gcu)"/>
<circle cx="616.0" cy="100.5" r="6.2" fill="url(#gcu)"/>
<circle cx="631.0" cy="100.5" r="6.2" fill="url(#gcu)"/>
<circle cx="645.9" cy="100.5" r="6.2" fill="url(#gcu)"/>
<circle cx="660.9" cy="100.5" r="6.2" fill="url(#gcu)"/>
<circle cx="675.8" cy="100.5" r="6.2" fill="url(#gcu)"/>
<circle cx="690.8" cy="100.5" r="6.2" fill="url(#gcu)"/>
<circle cx="705.8" cy="100.5" r="6.2" fill="url(#gcu)"/>
<circle cx="720.7" cy="100.5" r="6.2" fill="url(#gcu)"/>
<circle cx="511.4" cy="110.7" r="5.2" fill="url(#gcub)"/>
<circle cx="526.3" cy="110.7" r="5.2" fill="url(#gcub)"/>
<circle cx="541.3" cy="110.7" r="5.2" fill="url(#gcub)"/>
<circle cx="556.2" cy="110.7" r="5.2" fill="url(#gcub)"/>
<circle cx="571.2" cy="110.7" r="5.2" fill="url(#gcub)"/>
<circle cx="586.1" cy="110.7" r="5.2" fill="url(#gcub)"/>
<circle cx="601.1" cy="110.7" r="5.2" fill="url(#gcub)"/>
<circle cx="616.0" cy="110.7" r="5.2" fill="url(#gcub)"/>
<circle cx="631.0" cy="110.7" r="5.2" fill="url(#gcub)"/>
<circle cx="645.9" cy="110.7" r="5.2" fill="url(#gcub)"/>
<circle cx="660.9" cy="110.7" r="5.2" fill="url(#gcub)"/>
<circle cx="675.8" cy="110.7" r="5.2" fill="url(#gcub)"/>
<circle cx="690.8" cy="110.7" r="5.2" fill="url(#gcub)"/>
<circle cx="705.8" cy="110.7" r="5.2" fill="url(#gcub)"/>
<circle cx="720.7" cy="110.7" r="5.2" fill="url(#gcub)"/>
<circle cx="518.8" cy="110.2" r="6.2" fill="url(#gcu)"/>
<circle cx="533.8" cy="110.2" r="6.2" fill="url(#gcu)"/>
<circle cx="548.7" cy="110.2" r="6.2" fill="url(#gcu)"/>
<circle cx="563.7" cy="110.2" r="6.2" fill="url(#gcu)"/>
<circle cx="578.6" cy="110.2" r="6.2" fill="url(#gcu)"/>
<circle cx="593.6" cy="110.2" r="6.2" fill="url(#gcu)"/>
<circle cx="608.5" cy="110.2" r="6.2" fill="url(#gcu)"/>
<circle cx="623.5" cy="110.2" r="6.2" fill="url(#gcu)"/>
<circle cx="638.4" cy="110.2" r="6.2" fill="url(#gcu)"/>
<circle cx="653.4" cy="110.2" r="6.2" fill="url(#gcu)"/>
<circle cx="668.3" cy="110.2" r="6.2" fill="url(#gcu)"/>
<circle cx="683.2" cy="110.2" r="6.2" fill="url(#gcu)"/>
<circle cx="698.2" cy="110.2" r="6.2" fill="url(#gcu)"/>
<circle cx="713.2" cy="110.2" r="6.2" fill="url(#gcu)"/>
<circle cx="728.1" cy="110.2" r="6.2" fill="url(#gcu)"/>
<circle cx="518.8" cy="120.5" r="5.2" fill="url(#gcub)"/>
<circle cx="533.8" cy="120.5" r="5.2" fill="url(#gcub)"/>
<circle cx="548.7" cy="120.5" r="5.2" fill="url(#gcub)"/>
<circle cx="563.7" cy="120.5" r="5.2" fill="url(#gcub)"/>
<circle cx="578.6" cy="120.5" r="5.2" fill="url(#gcub)"/>
<circle cx="593.6" cy="120.5" r="5.2" fill="url(#gcub)"/>
<circle cx="608.5" cy="120.5" r="5.2" fill="url(#gcub)"/>
<circle cx="623.5" cy="120.5" r="5.2" fill="url(#gcub)"/>
<circle cx="638.4" cy="120.5" r="5.2" fill="url(#gcub)"/>
<circle cx="653.4" cy="120.5" r="5.2" fill="url(#gcub)"/>
<circle cx="668.3" cy="120.5" r="5.2" fill="url(#gcub)"/>
<circle cx="683.2" cy="120.5" r="5.2" fill="url(#gcub)"/>
<circle cx="698.2" cy="120.5" r="5.2" fill="url(#gcub)"/>
<circle cx="713.2" cy="120.5" r="5.2" fill="url(#gcub)"/>
<circle cx="728.1" cy="120.5" r="5.2" fill="url(#gcub)"/>
<circle cx="511.4" cy="120.0" r="6.2" fill="url(#gcu)"/>
<circle cx="526.3" cy="120.0" r="6.2" fill="url(#gcu)"/>
<circle cx="541.3" cy="120.0" r="6.2" fill="url(#gcu)"/>
<circle cx="556.2" cy="120.0" r="6.2" fill="url(#gcu)"/>
<circle cx="571.2" cy="120.0" r="6.2" fill="url(#gcu)"/>
<circle cx="586.1" cy="120.0" r="6.2" fill="url(#gcu)"/>
<circle cx="601.1" cy="120.0" r="6.2" fill="url(#gcu)"/>
<circle cx="616.0" cy="120.0" r="6.2" fill="url(#gcu)"/>
<circle cx="631.0" cy="120.0" r="6.2" fill="url(#gcu)"/>
<circle cx="645.9" cy="120.0" r="6.2" fill="url(#gcu)"/>
<circle cx="660.9" cy="120.0" r="6.2" fill="url(#gcu)"/>
<circle cx="675.8" cy="120.0" r="6.2" fill="url(#gcu)"/>
<circle cx="690.8" cy="120.0" r="6.2" fill="url(#gcu)"/>
<circle cx="705.8" cy="120.0" r="6.2" fill="url(#gcu)"/>
<circle cx="720.7" cy="120.0" r="6.2" fill="url(#gcu)"/>
<circle cx="511.4" cy="130.4" r="5.2" fill="url(#gcub)"/>
<circle cx="526.3" cy="130.4" r="5.2" fill="url(#gcub)"/>
<circle cx="541.3" cy="130.4" r="5.2" fill="url(#gcub)"/>
<circle cx="556.2" cy="130.4" r="5.2" fill="url(#gcub)"/>
<circle cx="571.2" cy="130.4" r="5.2" fill="url(#gcub)"/>
<circle cx="586.1" cy="130.4" r="5.2" fill="url(#gcub)"/>
<circle cx="601.1" cy="130.4" r="5.2" fill="url(#gcub)"/>
<circle cx="616.0" cy="130.4" r="5.2" fill="url(#gcub)"/>
<circle cx="631.0" cy="130.4" r="5.2" fill="url(#gcub)"/>
<circle cx="645.9" cy="130.4" r="5.2" fill="url(#gcub)"/>
<circle cx="660.9" cy="130.4" r="5.2" fill="url(#gcub)"/>
<circle cx="675.8" cy="130.4" r="5.2" fill="url(#gcub)"/>
<circle cx="690.8" cy="130.4" r="5.2" fill="url(#gcub)"/>
<circle cx="705.8" cy="130.4" r="5.2" fill="url(#gcub)"/>
<circle cx="720.7" cy="130.4" r="5.2" fill="url(#gcub)"/>
<circle cx="518.8" cy="129.9" r="6.2" fill="url(#gcu)"/>
<circle cx="533.8" cy="129.9" r="6.2" fill="url(#gcu)"/>
<circle cx="548.7" cy="129.9" r="6.2" fill="url(#gcu)"/>
<circle cx="563.7" cy="129.9" r="6.2" fill="url(#gcu)"/>
<circle cx="578.6" cy="129.9" r="6.2" fill="url(#gcu)"/>
<circle cx="593.6" cy="129.9" r="6.2" fill="url(#gcu)"/>
<circle cx="608.5" cy="129.9" r="6.2" fill="url(#gcu)"/>
<circle cx="623.5" cy="129.9" r="6.2" fill="url(#gcu)"/>
<circle cx="638.4" cy="129.9" r="6.2" fill="url(#gcu)"/>
<circle cx="653.4" cy="129.9" r="6.2" fill="url(#gcu)"/>
<circle cx="668.3" cy="129.9" r="6.2" fill="url(#gcu)"/>
<circle cx="683.2" cy="129.9" r="6.2" fill="url(#gcu)"/>
<circle cx="698.2" cy="129.9" r="6.2" fill="url(#gcu)"/>
<circle cx="713.2" cy="129.9" r="6.2" fill="url(#gcu)"/>
<circle cx="728.1" cy="129.9" r="6.2" fill="url(#gcu)"/>
<circle cx="518.8" cy="140.3" r="5.2" fill="url(#gcub)"/>
<circle cx="533.8" cy="140.3" r="5.2" fill="url(#gcub)"/>
<circle cx="548.7" cy="140.3" r="5.2" fill="url(#gcub)"/>
<circle cx="563.7" cy="140.3" r="5.2" fill="url(#gcub)"/>
<circle cx="578.6" cy="140.3" r="5.2" fill="url(#gcub)"/>
<circle cx="593.6" cy="140.3" r="5.2" fill="url(#gcub)"/>
<circle cx="608.5" cy="140.3" r="5.2" fill="url(#gcub)"/>
<circle cx="623.5" cy="140.3" r="5.2" fill="url(#gcub)"/>
<circle cx="638.4" cy="140.3" r="5.2" fill="url(#gcub)"/>
<circle cx="653.4" cy="140.3" r="5.2" fill="url(#gcub)"/>
<circle cx="668.3" cy="140.3" r="5.2" fill="url(#gcub)"/>
<circle cx="683.2" cy="140.3" r="5.2" fill="url(#gcub)"/>
<circle cx="698.2" cy="140.3" r="5.2" fill="url(#gcub)"/>
<circle cx="713.2" cy="140.3" r="5.2" fill="url(#gcub)"/>
<circle cx="728.1" cy="140.3" r="5.2" fill="url(#gcub)"/>
<circle cx="511.4" cy="139.8" r="6.2" fill="url(#gcu)"/>
<circle cx="526.3" cy="139.8" r="6.2" fill="url(#gcu)"/>
<circle cx="541.3" cy="139.8" r="6.2" fill="url(#gcu)"/>
<circle cx="556.2" cy="139.8" r="6.2" fill="url(#gcu)"/>
<circle cx="571.2" cy="139.8" r="6.2" fill="url(#gcu)"/>
<circle cx="586.1" cy="139.8" r="6.2" fill="url(#gcu)"/>
<circle cx="601.1" cy="139.8" r="5.9" fill="url(#gcuv)"/>
<circle cx="616.0" cy="139.8" r="6.2" fill="url(#gcu)"/>
<circle cx="631.0" cy="139.8" r="6.2" fill="url(#gcu)"/>
<circle cx="645.9" cy="139.8" r="6.2" fill="url(#gcu)"/>
<circle cx="660.9" cy="139.8" r="6.2" fill="url(#gcu)"/>
<circle cx="675.8" cy="139.8" r="6.2" fill="url(#gcu)"/>
<circle cx="690.8" cy="139.8" r="6.2" fill="url(#gcu)"/>
<circle cx="705.8" cy="139.8" r="6.2" fill="url(#gcu)"/>
<circle cx="720.7" cy="139.8" r="6.2" fill="url(#gcu)"/>
<circle cx="511.4" cy="150.0" r="5.2" fill="url(#gcub)"/>
<circle cx="526.3" cy="150.0" r="5.2" fill="url(#gcub)"/>
<circle cx="541.3" cy="150.0" r="5.2" fill="url(#gcub)"/>
<circle cx="556.2" cy="150.0" r="5.2" fill="url(#gcub)"/>
<circle cx="571.2" cy="150.0" r="5.2" fill="url(#gcub)"/>
<circle cx="586.1" cy="150.0" r="5.2" fill="url(#gcub)"/>
<circle cx="601.1" cy="150.0" r="5.2" fill="url(#gcub)"/>
<circle cx="616.0" cy="150.0" r="5.2" fill="url(#gcub)"/>
<circle cx="631.0" cy="150.0" r="5.2" fill="url(#gcub)"/>
<circle cx="645.9" cy="150.0" r="5.2" fill="url(#gcub)"/>
<circle cx="660.9" cy="150.0" r="5.2" fill="url(#gcub)"/>
<circle cx="675.8" cy="150.0" r="5.2" fill="url(#gcub)"/>
<circle cx="690.8" cy="150.0" r="5.2" fill="url(#gcub)"/>
<circle cx="705.8" cy="150.0" r="5.2" fill="url(#gcub)"/>
<circle cx="720.7" cy="150.0" r="5.2" fill="url(#gcub)"/>
<circle cx="518.8" cy="149.5" r="6.2" fill="url(#gcu)"/>
<circle cx="533.8" cy="149.5" r="6.2" fill="url(#gcu)"/>
<circle cx="548.7" cy="149.5" r="6.2" fill="url(#gcu)"/>
<circle cx="563.7" cy="149.5" r="6.2" fill="url(#gcu)"/>
<circle cx="578.6" cy="149.5" r="6.2" fill="url(#gcu)"/>
<circle cx="593.6" cy="149.5" r="6.2" fill="url(#gcu)"/>
<circle cx="608.5" cy="149.5" r="6.2" fill="url(#gcu)"/>
<circle cx="623.5" cy="149.5" r="6.2" fill="url(#gcu)"/>
<circle cx="638.4" cy="149.5" r="6.2" fill="url(#gcu)"/>
<circle cx="653.4" cy="149.5" r="6.2" fill="url(#gcu)"/>
<circle cx="668.3" cy="149.5" r="6.2" fill="url(#gcu)"/>
<circle cx="683.2" cy="149.5" r="6.2" fill="url(#gcu)"/>
<circle cx="698.2" cy="149.5" r="6.2" fill="url(#gcu)"/>
<circle cx="713.2" cy="149.5" r="6.2" fill="url(#gcu)"/>
<circle cx="728.1" cy="149.5" r="6.2" fill="url(#gcu)"/>
<circle cx="518.8" cy="159.5" r="5.2" fill="url(#gcub)"/>
<circle cx="533.8" cy="159.5" r="5.2" fill="url(#gcub)"/>
<circle cx="548.7" cy="159.5" r="5.2" fill="url(#gcub)"/>
<circle cx="563.7" cy="159.5" r="5.2" fill="url(#gcub)"/>
<circle cx="578.6" cy="159.5" r="5.2" fill="url(#gcub)"/>
<circle cx="593.6" cy="159.5" r="5.2" fill="url(#gcub)"/>
<circle cx="608.5" cy="159.5" r="5.2" fill="url(#gcub)"/>
<circle cx="623.5" cy="159.5" r="5.2" fill="url(#gcub)"/>
<circle cx="638.4" cy="159.5" r="5.2" fill="url(#gcub)"/>
<circle cx="653.4" cy="159.5" r="5.2" fill="url(#gcub)"/>
<circle cx="668.3" cy="159.5" r="5.2" fill="url(#gcub)"/>
<circle cx="683.2" cy="159.5" r="5.2" fill="url(#gcub)"/>
<circle cx="698.2" cy="159.5" r="5.2" fill="url(#gcub)"/>
<circle cx="713.2" cy="159.5" r="5.2" fill="url(#gcub)"/>
<circle cx="728.1" cy="159.5" r="5.2" fill="url(#gcub)"/>
<circle cx="511.4" cy="159.0" r="6.2" fill="url(#gcu)"/>
<circle cx="526.3" cy="159.0" r="6.2" fill="url(#gcu)"/>
<circle cx="541.3" cy="159.0" r="6.2" fill="url(#gcu)"/>
<circle cx="556.2" cy="159.0" r="6.2" fill="url(#gcu)"/>
<circle cx="571.2" cy="159.0" r="6.2" fill="url(#gcu)"/>
<circle cx="586.1" cy="159.0" r="6.2" fill="url(#gcu)"/>
<circle cx="601.1" cy="159.0" r="6.2" fill="url(#gcu)"/>
<circle cx="616.0" cy="159.0" r="6.2" fill="url(#gcu)"/>
<circle cx="631.0" cy="159.0" r="6.2" fill="url(#gcu)"/>
<circle cx="645.9" cy="159.0" r="6.2" fill="url(#gcu)"/>
<circle cx="660.9" cy="159.0" r="6.2" fill="url(#gcu)"/>
<circle cx="675.8" cy="159.0" r="6.2" fill="url(#gcu)"/>
<circle cx="690.8" cy="159.0" r="6.2" fill="url(#gcu)"/>
<circle cx="705.8" cy="159.0" r="6.2" fill="url(#gcu)"/>
<circle cx="720.7" cy="159.0" r="6.2" fill="url(#gcu)"/>
</g>
<circle cx="316.7" cy="30.8" r="7.2" fill="url(#gi)"/>
<circle cx="381.2" cy="29.2" r="7.2" fill="url(#gi)"/>
<circle cx="402.7" cy="39.7" r="7.2" fill="url(#gi)"/>
<circle cx="340.3" cy="67.3" r="7.2" fill="url(#gi)"/>
<circle cx="576.4" cy="32.2" r="7.1" fill="url(#gi)"/>
<circle cx="639.5" cy="30.4" r="7.1" fill="url(#gi)"/>
<circle cx="660.7" cy="41.1" r="7.1" fill="url(#gi)"/>
<circle cx="599.3" cy="68.0" r="7.1" fill="url(#gi)"/>
<circle cx="553.8" cy="78.2" r="7.1" fill="url(#gi)"/>
<circle cx="571.2" cy="81.0" r="7.1" fill="url(#gi)"/>
<circle cx="585.9" cy="80.3" r="7.1" fill="url(#gi)"/>
<circle cx="620.6" cy="79.0" r="7.1" fill="url(#gi)"/>
<circle cx="642.5" cy="77.3" r="7.1" fill="url(#gi)"/>
<circle cx="661.0" cy="80.6" r="7.1" fill="url(#gi)"/>
<circle cx="601.4" cy="26.2" r="4.4" fill="url(#go)"/>
<circle cx="609.1" cy="42.8" r="4.4" fill="url(#go)"/>
<circle cx="605.1" cy="34.3" r="4.6" fill="url(#gc)"/>
<circle cx="558.4" cy="53.0" r="4.4" fill="url(#go)"/>
<circle cx="573.4" cy="63.1" r="4.4" fill="url(#go)"/>
<circle cx="565.9" cy="57.9" r="4.6" fill="url(#gc)"/>
<circle cx="619.4" cy="59.3" r="4.4" fill="url(#go)"/>
<circle cx="636.7" cy="54.4" r="4.4" fill="url(#go)"/>
<circle cx="628.0" cy="56.8" r="4.6" fill="url(#gc)"/>
<path d="M190.2 92.9 L230.2 92.9 L227.2 87.1 L249.2 96.3 L227.2 105.5 L230.2 99.7 L190.2 99.7 Z" fill="#fff" stroke="#8a8a8a" stroke-width="0.7" stroke-linejoin="miter"/>
<text x="218.7" y="63.7" font-size="10.3" text-anchor="middle" fill="#848484" textLength="46.6" lengthAdjust="spacingAndGlyphs">Iodide ion</text>
<text x="219.7" y="75.7" font-size="10.3" text-anchor="middle" fill="#848484" textLength="58.4" lengthAdjust="spacingAndGlyphs">introduction</text>
<path d="M449.3 92.9 L489.2 92.9 L486.0 87.1 L507.9 96.3 L486.0 105.5 L489.2 99.7 L449.3 99.7 Z" fill="#fff" stroke="#8a8a8a" stroke-width="0.7" stroke-linejoin="miter"/>
<text x="477.3" y="57.5" font-size="10.3" text-anchor="middle" fill="#848484" textLength="49.1" lengthAdjust="spacingAndGlyphs">Subject to</text>
<text x="477.2" y="69.6" font-size="10.3" text-anchor="middle" fill="#848484" textLength="40.5" lengthAdjust="spacingAndGlyphs">negative</text>
<text x="478.9" y="81.8" font-size="10.3" text-anchor="middle" fill="#848484" textLength="46.9" lengthAdjust="spacingAndGlyphs">potentials</text>
<circle cx="21.7" cy="177.3" r="6.2" fill="url(#gcu)"/>
<text x="33.6" y="181.4" font-size="10.4" fill="#222" textLength="12.9" lengthAdjust="spacingAndGlyphs">Cu</text>
<circle cx="70.5" cy="177.4" r="7.4" fill="url(#gi)"/>
<text x="83.2" y="181.4" font-size="10.4" fill="#222">I<tspan dy="-3.95" font-size="6.45">−</tspan></text>
<circle cx="110.2" cy="177.3" r="4.7" fill="url(#gc)"/>
<text x="119.9" y="181.4" font-size="10.4" fill="#222" textLength="7.0" lengthAdjust="spacingAndGlyphs">C</text>
<circle cx="149.2" cy="177.4" r="4.7" fill="url(#go)"/>
<text x="159.1" y="181.4" font-size="10.4" fill="#222" textLength="7.7" lengthAdjust="spacingAndGlyphs">O</text>
<text x="0.2" y="7.7" font-size="14.4" fill="#000" font-weight="bold" textLength="8.2" lengthAdjust="spacingAndGlyphs" stroke="#000" stroke-width="0.5">a</text>
<text x="-0.3" y="208.6" font-size="14.4" fill="#000" font-weight="bold" textLength="9.4" lengthAdjust="spacingAndGlyphs" stroke="#000" stroke-width="0.5">b</text>
<text x="465.6" y="208.7" font-size="14.4" fill="#000" font-weight="bold" textLength="7.8" lengthAdjust="spacingAndGlyphs" stroke="#000" stroke-width="0.5">c</text>
<text x="-0.7" y="398.7" font-size="14.4" fill="#000" font-weight="bold" textLength="9.8" lengthAdjust="spacingAndGlyphs" stroke="#000" stroke-width="0.5">d</text>
<text x="241.6" y="398.7" font-size="14.4" fill="#000" font-weight="bold" textLength="8.0" lengthAdjust="spacingAndGlyphs" stroke="#000" stroke-width="0.5">e</text>
<text x="465.0" y="397.8" font-size="14.4" fill="#000" font-weight="bold" textLength="5.8" lengthAdjust="spacingAndGlyphs" stroke="#000" stroke-width="0.5">f</text>
<rect x="67.35" y="295.19" width="11.14" height="50.81" fill="#5e9dbb" stroke="#5590ad" stroke-width="0.5"/>
<rect x="78.49" y="294.48" width="11.14" height="51.52" fill="#b4d4e8" stroke="#a3c3d8" stroke-width="0.5"/>
<rect x="89.63" y="288.36" width="11.14" height="57.64" fill="#e4ece4" stroke="#cbd6cd" stroke-width="0.5"/>
<rect x="100.77" y="296.60" width="11.14" height="49.40" fill="#fbeac3" stroke="#e6d5ae" stroke-width="0.5"/>
<rect x="111.91" y="270.47" width="11.14" height="75.53" fill="#f28b8c" stroke="#e88283" stroke-width="0.5"/>
<path d="M72.9 292.6V296.9M70.7 292.6H75.1M70.7 296.9H75.1" stroke="#4f8aa6" stroke-width="0.6" fill="none"/>
<circle cx="70.2" cy="295.6" r="1.4" fill="url(#gd)"/>
<circle cx="73.3" cy="292.0" r="1.4" fill="url(#gd)"/>
<circle cx="75.6" cy="296.6" r="1.4" fill="url(#gd)"/>
<path d="M84.1 291.3V298.1M81.9 291.3H86.3M81.9 298.1H86.3" stroke="#9dbdd2" stroke-width="0.6" fill="none"/>
<circle cx="81.5" cy="298.7" r="1.4" fill="url(#gd)"/>
<circle cx="84.3" cy="291.3" r="1.4" fill="url(#gd)"/>
<circle cx="86.8" cy="294.1" r="1.4" fill="url(#gd)"/>
<path d="M95.2 280.5V295.5M93.0 280.5H97.4M93.0 295.5H97.4" stroke="#c3cdc5" stroke-width="0.6" fill="none"/>
<circle cx="95.5" cy="280.0" r="1.4" fill="url(#gd)"/>
<circle cx="95.5" cy="287.3" r="1.4" fill="url(#gd)"/>
<circle cx="95.5" cy="296.7" r="1.4" fill="url(#gd)"/>
<path d="M106.3 294.5V298.3M104.1 294.5H108.5M104.1 298.3H108.5" stroke="#dccaa0" stroke-width="0.6" fill="none"/>
<circle cx="103.7" cy="295.2" r="1.4" fill="url(#gd)"/>
<circle cx="106.5" cy="298.9" r="1.4" fill="url(#gd)"/>
<circle cx="109.3" cy="295.1" r="1.4" fill="url(#gd)"/>
<path d="M117.5 267.2V272.5M115.3 267.2H119.7M115.3 272.5H119.7" stroke="#d97374" stroke-width="0.6" fill="none"/>
<circle cx="115.0" cy="271.6" r="1.4" fill="url(#gd)"/>
<circle cx="117.7" cy="266.5" r="1.4" fill="url(#gd)"/>
<circle cx="120.5" cy="271.5" r="1.4" fill="url(#gd)"/>
<rect x="153.45" y="282.01" width="11.14" height="63.99" fill="#5e9dbb" stroke="#5590ad" stroke-width="0.5"/>
<rect x="164.59" y="294.01" width="11.14" height="51.99" fill="#b4d4e8" stroke="#a3c3d8" stroke-width="0.5"/>
<rect x="175.73" y="293.07" width="11.14" height="52.93" fill="#e4ece4" stroke="#cbd6cd" stroke-width="0.5"/>
<rect x="186.87" y="289.07" width="11.14" height="56.93" fill="#fbeac3" stroke="#e6d5ae" stroke-width="0.5"/>
<rect x="198.01" y="257.29" width="11.14" height="88.71" fill="#f28b8c" stroke="#e88283" stroke-width="0.5"/>
<path d="M159.0 278.5V285.8M156.8 278.5H161.2M156.8 285.8H161.2" stroke="#4f8aa6" stroke-width="0.6" fill="none"/>
<circle cx="159.0" cy="277.5" r="1.4" fill="url(#gd)"/>
<circle cx="159.0" cy="283.8" r="1.4" fill="url(#gd)"/>
<circle cx="159.0" cy="285.1" r="1.4" fill="url(#gd)"/>
<path d="M170.2 291.0V297.2M168.0 291.0H172.4M168.0 297.2H172.4" stroke="#9dbdd2" stroke-width="0.6" fill="none"/>
<circle cx="167.5" cy="297.1" r="1.4" fill="url(#gd)"/>
<circle cx="170.0" cy="290.4" r="1.4" fill="url(#gd)"/>
<circle cx="172.8" cy="294.8" r="1.4" fill="url(#gd)"/>
<path d="M181.3 284.9V301.0M179.1 284.9H183.5M179.1 301.0H183.5" stroke="#c3cdc5" stroke-width="0.6" fill="none"/>
<circle cx="181.5" cy="283.0" r="1.4" fill="url(#gd)"/>
<circle cx="181.5" cy="295.5" r="1.4" fill="url(#gd)"/>
<circle cx="181.5" cy="300.3" r="1.4" fill="url(#gd)"/>
<path d="M192.4 282.1V296.1M190.2 282.1H194.6M190.2 296.1H194.6" stroke="#dccaa0" stroke-width="0.6" fill="none"/>
<circle cx="192.3" cy="280.5" r="1.4" fill="url(#gd)"/>
<circle cx="192.3" cy="291.3" r="1.4" fill="url(#gd)"/>
<circle cx="192.3" cy="295.5" r="1.4" fill="url(#gd)"/>
<path d="M203.6 253.3V261.1M201.4 253.3H205.8M201.4 261.1H205.8" stroke="#d97374" stroke-width="0.6" fill="none"/>
<circle cx="200.9" cy="256.2" r="1.4" fill="url(#gd)"/>
<circle cx="206.1" cy="253.5" r="1.4" fill="url(#gd)"/>
<circle cx="203.5" cy="261.9" r="1.4" fill="url(#gd)"/>
<rect x="239.45" y="278.48" width="11.14" height="67.52" fill="#5e9dbb" stroke="#5590ad" stroke-width="0.5"/>
<rect x="250.59" y="283.89" width="11.14" height="62.11" fill="#b4d4e8" stroke="#a3c3d8" stroke-width="0.5"/>
<rect x="261.73" y="286.01" width="11.14" height="59.99" fill="#e4ece4" stroke="#cbd6cd" stroke-width="0.5"/>
<rect x="272.87" y="284.13" width="11.14" height="61.87" fill="#fbeac3" stroke="#e6d5ae" stroke-width="0.5"/>
<rect x="284.01" y="250.23" width="11.14" height="95.77" fill="#f28b8c" stroke="#e88283" stroke-width="0.5"/>
<path d="M245.0 274.8V282.2M242.8 274.8H247.2M242.8 282.2H247.2" stroke="#4f8aa6" stroke-width="0.6" fill="none"/>
<circle cx="244.8" cy="275.0" r="1.4" fill="url(#gd)"/>
<circle cx="244.8" cy="277.5" r="1.4" fill="url(#gd)"/>
<circle cx="244.8" cy="283.0" r="1.4" fill="url(#gd)"/>
<path d="M256.2 281.0V286.2M254.0 281.0H258.4M254.0 286.2H258.4" stroke="#9dbdd2" stroke-width="0.6" fill="none"/>
<circle cx="253.1" cy="280.9" r="1.4" fill="url(#gd)"/>
<circle cx="255.8" cy="286.6" r="1.4" fill="url(#gd)"/>
<circle cx="258.6" cy="283.3" r="1.4" fill="url(#gd)"/>
<path d="M267.3 279.6V291.9M265.1 279.6H269.5M265.1 291.9H269.5" stroke="#c3cdc5" stroke-width="0.6" fill="none"/>
<circle cx="267.2" cy="278.4" r="1.4" fill="url(#gd)"/>
<circle cx="267.2" cy="287.0" r="1.4" fill="url(#gd)"/>
<circle cx="267.2" cy="291.9" r="1.4" fill="url(#gd)"/>
<path d="M278.4 279.8V287.9M276.2 279.8H280.6M276.2 287.9H280.6" stroke="#dccaa0" stroke-width="0.6" fill="none"/>
<circle cx="275.4" cy="280.9" r="1.4" fill="url(#gd)"/>
<circle cx="278.2" cy="289.0" r="1.4" fill="url(#gd)"/>
<circle cx="281.1" cy="281.6" r="1.4" fill="url(#gd)"/>
<path d="M289.6 245.3V251.9M287.4 245.3H291.8M287.4 251.9H291.8" stroke="#d97374" stroke-width="0.6" fill="none"/>
<circle cx="286.8" cy="250.8" r="1.4" fill="url(#gd)"/>
<circle cx="289.4" cy="252.1" r="1.4" fill="url(#gd)"/>
<circle cx="294.2" cy="244.5" r="1.4" fill="url(#gd)"/>
<circle cx="292.5" cy="247.0" r="1.4" fill="url(#gd)"/>
<rect x="325.05" y="291.19" width="11.14" height="54.81" fill="#5e9dbb" stroke="#5590ad" stroke-width="0.5"/>
<rect x="336.19" y="287.30" width="11.14" height="58.70" fill="#b4d4e8" stroke="#a3c3d8" stroke-width="0.5"/>
<rect x="347.33" y="280.59" width="11.14" height="65.41" fill="#e4ece4" stroke="#cbd6cd" stroke-width="0.5"/>
<rect x="358.47" y="281.54" width="11.14" height="64.46" fill="#fbeac3" stroke="#e6d5ae" stroke-width="0.5"/>
<rect x="369.61" y="259.41" width="11.14" height="86.59" fill="#f28b8c" stroke="#e88283" stroke-width="0.5"/>
<path d="M330.6 287.9V294.7M328.4 287.9H332.8M328.4 294.7H332.8" stroke="#4f8aa6" stroke-width="0.6" fill="none"/>
<circle cx="330.5" cy="287.2" r="1.4" fill="url(#gd)"/>
<circle cx="330.5" cy="292.2" r="1.4" fill="url(#gd)"/>
<circle cx="330.5" cy="294.6" r="1.4" fill="url(#gd)"/>
<path d="M341.8 285.8V288.2M339.6 285.8H344.0M339.6 288.2H344.0" stroke="#9dbdd2" stroke-width="0.6" fill="none"/>
<circle cx="338.1" cy="286.0" r="1.4" fill="url(#gd)"/>
<circle cx="341.6" cy="286.4" r="1.4" fill="url(#gd)"/>
<circle cx="345.3" cy="288.5" r="1.4" fill="url(#gd)"/>
<path d="M352.9 279.2V281.5M350.7 279.2H355.1M350.7 281.5H355.1" stroke="#c3cdc5" stroke-width="0.6" fill="none"/>
<circle cx="350.4" cy="280.3" r="1.4" fill="url(#gd)"/>
<circle cx="353.1" cy="279.1" r="1.4" fill="url(#gd)"/>
<circle cx="355.6" cy="281.7" r="1.4" fill="url(#gd)"/>
<path d="M364.0 278.5V284.1M361.8 278.5H366.2M361.8 284.1H366.2" stroke="#dccaa0" stroke-width="0.6" fill="none"/>
<circle cx="361.2" cy="284.6" r="1.4" fill="url(#gd)"/>
<circle cx="364.1" cy="278.4" r="1.4" fill="url(#gd)"/>
<circle cx="366.7" cy="280.8" r="1.4" fill="url(#gd)"/>
<path d="M375.2 253.0V265.4M373.0 253.0H377.4M373.0 265.4H377.4" stroke="#d97374" stroke-width="0.6" fill="none"/>
<circle cx="375.5" cy="251.9" r="1.4" fill="url(#gd)"/>
<circle cx="375.5" cy="260.1" r="1.4" fill="url(#gd)"/>
<circle cx="375.5" cy="265.6" r="1.4" fill="url(#gd)"/>
<rect x="52.5" y="216.5" width="343.5" height="129.5" fill="none" stroke="#6a6a6a" stroke-width="1"/>
<path d="M48.5 345.8H52.5" stroke="#6a6a6a" stroke-width="1"/>
<text x="43.5" y="348.9" font-size="9.9" text-anchor="end" fill="#222" textLength="5.2" lengthAdjust="spacingAndGlyphs">0</text>
<path d="M48.5 322.3H52.5" stroke="#6a6a6a" stroke-width="1"/>
<text x="43.5" y="325.4" font-size="9.9" text-anchor="end" fill="#222" textLength="10.4" lengthAdjust="spacingAndGlyphs">10</text>
<path d="M48.5 298.7H52.5" stroke="#6a6a6a" stroke-width="1"/>
<text x="43.5" y="301.8" font-size="9.9" text-anchor="end" fill="#222" textLength="10.4" lengthAdjust="spacingAndGlyphs">20</text>
<path d="M48.5 275.2H52.5" stroke="#6a6a6a" stroke-width="1"/>
<text x="43.5" y="278.3" font-size="9.9" text-anchor="end" fill="#222" textLength="10.4" lengthAdjust="spacingAndGlyphs">30</text>
<path d="M48.5 251.6H52.5" stroke="#6a6a6a" stroke-width="1"/>
<text x="43.5" y="254.7" font-size="9.9" text-anchor="end" fill="#222" textLength="10.4" lengthAdjust="spacingAndGlyphs">40</text>
<path d="M48.5 228.1H52.5" stroke="#6a6a6a" stroke-width="1"/>
<text x="43.5" y="231.2" font-size="9.9" text-anchor="end" fill="#222" textLength="10.4" lengthAdjust="spacingAndGlyphs">50</text>
<path d="M95.2 346.0V350.3" stroke="#6a6a6a" stroke-width="1"/>
<text x="95.1" y="361.6" font-size="9.9" text-anchor="middle" fill="#222" textLength="16.5" lengthAdjust="spacingAndGlyphs">400</text>
<path d="M181.3 346.0V350.3" stroke="#6a6a6a" stroke-width="1"/>
<text x="181.2" y="361.6" font-size="9.9" text-anchor="middle" fill="#222" textLength="16.5" lengthAdjust="spacingAndGlyphs">600</text>
<path d="M267.3 346.0V350.3" stroke="#6a6a6a" stroke-width="1"/>
<text x="267.2" y="361.6" font-size="9.9" text-anchor="middle" fill="#222" textLength="16.5" lengthAdjust="spacingAndGlyphs">800</text>
<path d="M352.9 346.0V350.3" stroke="#6a6a6a" stroke-width="1"/>
<text x="352.8" y="361.6" font-size="9.9" text-anchor="middle" fill="#222" textLength="23.2" lengthAdjust="spacingAndGlyphs">1,000</text>
<text x="224.6" y="377.3" font-size="10.3" text-anchor="middle" fill="#111" textLength="149.4" lengthAdjust="spacingAndGlyphs">Total current density (mA cm<tspan dy="-3.91" font-size="6.39">−2</tspan><tspan dy="3.91">)</tspan></text>
<text x="22.3" y="281.1" font-size="10.3" text-anchor="middle" fill="#111" textLength="53.8" lengthAdjust="spacingAndGlyphs" transform="rotate(-90 22.3 281.1)">C<tspan dy="2.88" font-size="6.39">2</tspan><tspan dy="-2.88">H</tspan><tspan dy="2.88" font-size="6.39">4</tspan><tspan dy="-2.88"> FE (%)</tspan></text>
<rect x="61" y="220.1" width="8.8" height="8.8" fill="#5e9dbb" stroke="#5590ad" stroke-width="0.5"/>
<text x="75.5" y="228.1" font-size="10.5" fill="#111" textLength="70.0" lengthAdjust="spacingAndGlyphs">H<tspan dy="2.94" font-size="6.51">2</tspan><tspan dy="-2.94">SO</tspan><tspan dy="2.94" font-size="6.51">4</tspan><tspan dy="-2.94"> + K</tspan><tspan dy="2.94" font-size="6.51">2</tspan><tspan dy="-2.94">SO</tspan><tspan dy="2.94" font-size="6.51">4</tspan></text>
<rect x="61" y="234.6" width="8.8" height="8.8" fill="#e4ece4" stroke="#cbd6cd" stroke-width="0.5"/>
<text x="75.5" y="242.7" font-size="10.5" fill="#111" textLength="57.0" lengthAdjust="spacingAndGlyphs">H<tspan dy="2.94" font-size="6.51">2</tspan><tspan dy="-2.94">SO</tspan><tspan dy="2.94" font-size="6.51">4</tspan><tspan dy="-2.94"> + KCl</tspan></text>
<rect x="162.6" y="220.1" width="8.8" height="8.8" fill="#b4d4e8" stroke="#a3c3d8" stroke-width="0.5"/>
<text x="177.3" y="228.1" font-size="10.5" fill="#111" textLength="51.4" lengthAdjust="spacingAndGlyphs">H<tspan dy="2.94" font-size="6.51">2</tspan><tspan dy="-2.94">SO</tspan><tspan dy="2.94" font-size="6.51">4</tspan><tspan dy="-2.94"> + KF</tspan></text>
<rect x="162.6" y="234.6" width="8.8" height="8.8" fill="#fbeac3" stroke="#e6d5ae" stroke-width="0.5"/>
<text x="177.3" y="242.7" font-size="10.5" fill="#111" textLength="56.6" lengthAdjust="spacingAndGlyphs">H<tspan dy="2.94" font-size="6.51">2</tspan><tspan dy="-2.94">SO</tspan><tspan dy="2.94" font-size="6.51">4</tspan><tspan dy="-2.94"> + KBr</tspan></text>
<rect x="251.5" y="234.6" width="8.8" height="8.8" fill="#f28b8c" stroke="#e88283" stroke-width="0.5"/>
<text x="266.4" y="242.7" font-size="10.5" fill="#111" textLength="49.4" lengthAdjust="spacingAndGlyphs">H<tspan dy="2.94" font-size="6.51">2</tspan><tspan dy="-2.94">SO</tspan><tspan dy="2.94" font-size="6.51">4</tspan><tspan dy="-2.94"> + KI</tspan></text>
<rect x="521.4" y="216.5" width="161.1" height="129.0" fill="#fff" stroke="#6a6a6a" stroke-width="1"/>
<path d="M517.4 345.6H521.4" stroke="#6a6a6a" stroke-width="1"/>
<text x="513.0" y="348.7" font-size="9.9" text-anchor="end" fill="#222" textLength="5.2" lengthAdjust="spacingAndGlyphs">0</text>
<path d="M517.4 316.8H521.4" stroke="#6a6a6a" stroke-width="1"/>
<text x="513.0" y="319.9" font-size="9.9" text-anchor="end" fill="#222" textLength="16.4" lengthAdjust="spacingAndGlyphs">100</text>
<path d="M517.4 288.0H521.4" stroke="#6a6a6a" stroke-width="1"/>
<text x="513.0" y="291.1" font-size="9.9" text-anchor="end" fill="#222" textLength="16.4" lengthAdjust="spacingAndGlyphs">200</text>
<path d="M517.4 259.3H521.4" stroke="#6a6a6a" stroke-width="1"/>
<text x="513.0" y="262.4" font-size="9.9" text-anchor="end" fill="#222" textLength="16.4" lengthAdjust="spacingAndGlyphs">300</text>
<path d="M517.4 230.5H521.4" stroke="#6a6a6a" stroke-width="1"/>
<text x="513.0" y="233.6" font-size="9.9" text-anchor="end" fill="#222" textLength="16.4" lengthAdjust="spacingAndGlyphs">400</text>
<path d="M521.5 345.5V349.7" stroke="#6a6a6a" stroke-width="1"/>
<text x="521.2" y="360.6" font-size="9.9" text-anchor="middle" fill="#222" textLength="17.4" lengthAdjust="spacingAndGlyphs">−0.8</text>
<path d="M573.4 345.5V349.7" stroke="#6a6a6a" stroke-width="1"/>
<text x="573.1" y="360.6" font-size="9.9" text-anchor="middle" fill="#222" textLength="15.4" lengthAdjust="spacingAndGlyphs">−1.0</text>
<path d="M625.3 345.5V349.7" stroke="#6a6a6a" stroke-width="1"/>
<text x="625.0" y="360.6" font-size="9.9" text-anchor="middle" fill="#222" textLength="14.4" lengthAdjust="spacingAndGlyphs">−1.2</text>
<path d="M677.2 345.5V349.7" stroke="#6a6a6a" stroke-width="1"/>
<text x="676.9" y="360.6" font-size="9.9" text-anchor="middle" fill="#222" textLength="14.8" lengthAdjust="spacingAndGlyphs">−1.4</text>
<text x="601.9" y="375.9" font-size="10.3" text-anchor="middle" fill="#111" textLength="113.8" lengthAdjust="spacingAndGlyphs">Potential (V versus RHE)</text>
<text x="475.2" y="281.0" font-size="10.3" text-anchor="middle" fill="#111" textLength="130.0" lengthAdjust="spacingAndGlyphs" transform="rotate(-90 475.2 281.0)">C<tspan dy="2.88" font-size="6.39">2</tspan><tspan dy="-2.88">H</tspan><tspan dy="2.88" font-size="6.39">4</tspan><tspan dy="-2.88"> partial current density</tspan></text>
<text x="489.0" y="280.1" font-size="10.3" text-anchor="middle" fill="#111" textLength="49.2" lengthAdjust="spacingAndGlyphs" transform="rotate(-90 489.0 280.1)">(mA cm<tspan dy="-3.91" font-size="6.39">−2</tspan><tspan dy="3.91">)</tspan></text>
<path d="M615.4 320.6H635.4M615.4 319.0V322.2M635.4 319.0V322.2M625.4 319.1V322.1M623.8 319.1H627.0M623.8 322.1H627.0M619.4 307.3H637.4M619.4 305.7V308.9M637.4 305.7V308.9M628.4 304.3V310.3M626.8 304.3H630.0M626.8 310.3H630.0M624.2 284.2H648.2M624.2 282.6V285.8M648.2 282.6V285.8M636.2 282.2V286.2M634.6 282.2H637.8M634.6 286.2H637.8M630.6 273.0H658.6M630.6 271.4V274.6M658.6 271.4V274.6M644.6 270.0V276.0M643.0 270.0H646.2M643.0 276.0H646.2" stroke="#e6cbb0" stroke-width="0.6" fill="none"/>
<path d="M625.4 320.6 L628.4 307.3 L636.2 284.2 L644.6 273.0" stroke="#dcb894" stroke-width="1.0" fill="none" stroke-linejoin="round"/>
<circle cx="625.4" cy="320.6" r="2.2" fill="#f3e6d6" stroke="#dcb894" stroke-width="0.8"/>
<circle cx="628.4" cy="307.3" r="2.2" fill="#f3e6d6" stroke="#dcb894" stroke-width="0.8"/>
<circle cx="636.2" cy="284.2" r="2.2" fill="#f3e6d6" stroke="#dcb894" stroke-width="0.8"/>
<circle cx="644.6" cy="273.0" r="2.2" fill="#f3e6d6" stroke="#dcb894" stroke-width="0.8"/>
<path d="M598.0 321.0H616.0M598.0 319.4V322.6M616.0 319.4V322.6M607.0 319.8V322.2M605.4 319.8H608.6M605.4 322.2H608.6M624.9 303.8H646.9M624.9 302.2V305.4M646.9 302.2V305.4M635.9 301.3V306.3M634.3 301.3H637.5M634.3 306.3H637.5M629.6 284.7H659.6M629.6 283.1V286.3M659.6 283.1V286.3M644.6 282.2V287.2M643.0 282.2H646.2M643.0 287.2H646.2M631.3 266.4H663.3M631.3 264.8V268.0M663.3 264.8V268.0M647.3 263.4V269.4M645.7 263.4H648.9M645.7 269.4H648.9" stroke="#f5c27a" stroke-width="0.6" fill="none"/>
<path d="M607.0 321.0 L635.9 303.8 L644.6 284.7 L647.3 266.4" stroke="#f0a030" stroke-width="1.0" fill="none" stroke-linejoin="round"/>
<polygon points="604.9,318.4 609.6,321.0 604.9,323.6" fill="#f0a030" stroke="#f0a030" stroke-width="0.6"/>
<polygon points="633.8,301.2 638.5,303.8 633.8,306.4" fill="#f0a030" stroke="#f0a030" stroke-width="0.6"/>
<polygon points="642.5,282.1 647.2,284.7 642.5,287.3" fill="#f0a030" stroke="#f0a030" stroke-width="0.6"/>
<polygon points="645.2,263.8 649.9,266.4 645.2,269.0" fill="#f0a030" stroke="#f0a030" stroke-width="0.6"/>
<path d="M601.4 320.5H620.4M601.4 318.9V322.1M620.4 318.9V322.1M610.9 319.3V321.7M609.3 319.3H612.5M609.3 321.7H612.5M619.4 298.8H637.4M619.4 297.2V300.4M637.4 297.2V300.4M628.4 296.3V301.3M626.8 296.3H630.0M626.8 301.3H630.0M644.8 279.4H664.8M644.8 277.8V281.0M664.8 277.8V281.0M654.8 276.4V282.4M653.2 276.4H656.4M653.2 282.4H656.4M652.8 279.0H676.8M652.8 277.4V280.6M676.8 277.4V280.6M664.8 275.0V283.0M663.2 275.0H666.4M663.2 283.0H666.4" stroke="#93c3cf" stroke-width="0.6" fill="none"/>
<path d="M610.9 320.5 L628.4 298.8 L654.8 279.4 L664.8 279.0" stroke="#4f9cb0" stroke-width="1.0" fill="none" stroke-linejoin="round"/>
<polygon points="610.9,317.6 613.4,320.5 610.9,323.4 608.4,320.5" fill="#4f9cb0" stroke="#4f9cb0" stroke-width="0.6"/>
<polygon points="628.4,295.9 630.9,298.8 628.4,301.7 625.9,298.8" fill="#4f9cb0" stroke="#4f9cb0" stroke-width="0.6"/>
<polygon points="654.8,276.5 657.3,279.4 654.8,282.3 652.3,279.4" fill="#4f9cb0" stroke="#4f9cb0" stroke-width="0.6"/>
<polygon points="664.8,276.1 667.3,279.0 664.8,281.9 662.3,279.0" fill="#4f9cb0" stroke="#4f9cb0" stroke-width="0.6"/>
<path d="M544.8 317.2H576.4M544.8 315.6V318.8M576.4 315.6V318.8M560.6 313.2V321.2M559.0 313.2H562.2M559.0 321.2H562.2M567.3 307.0H608.5M567.3 305.4V308.6M608.5 305.4V308.6M587.9 300.4V313.6M586.3 300.4H589.5M586.3 313.6H589.5M582.3 287.7H612.3M582.3 286.1V289.3M612.3 286.1V289.3M597.3 281.1V294.3M595.7 281.1H598.9M595.7 294.3H598.9M595.8 265.7H626.2M595.8 264.1V267.3M626.2 264.1V267.3M611.0 264.2V267.2M609.4 264.2H612.6M609.4 267.2H612.6" stroke="#f4b09a" stroke-width="0.6" fill="none"/>
<path d="M560.6 317.2 L587.9 307.0 L597.3 287.7 L611.0 265.7" stroke="#f08f73" stroke-width="0.9" fill="none" stroke-linejoin="round"/>
<polygon points="560.60,314.20 561.39,316.11 563.45,316.27 561.88,317.62 562.36,319.63 560.60,318.55 558.84,319.63 559.32,317.62 557.75,316.27 559.81,316.11" fill="#fbd9cc" stroke="#f08f73" stroke-width="0.7"/>
<polygon points="587.90,304.00 588.69,305.91 590.75,306.07 589.18,307.42 589.66,309.43 587.90,308.35 586.14,309.43 586.62,307.42 585.05,306.07 587.11,305.91" fill="#fbd9cc" stroke="#f08f73" stroke-width="0.7"/>
<polygon points="597.30,284.70 598.09,286.61 600.15,286.77 598.58,288.12 599.06,290.13 597.30,289.05 595.54,290.13 596.02,288.12 594.45,286.77 596.51,286.61" fill="#fbd9cc" stroke="#f08f73" stroke-width="0.7"/>
<polygon points="611.00,262.70 611.79,264.61 613.85,264.77 612.28,266.12 612.76,268.13 611.00,267.05 609.24,268.13 609.72,266.12 608.15,264.77 610.21,264.61" fill="#fbd9cc" stroke="#f08f73" stroke-width="0.7"/>
<path d="M640.5 288H584" stroke="#2d3b58" stroke-width="1.4" stroke-dasharray="4.6 2.7" fill="none"/>
<polygon points="579,288 585,285.5 585,290.5" fill="#2d3b58"/>
<path d="M522.1 308.5H544.1M522.1 306.9V310.1M544.1 306.9V310.1M565.6 280.6H584.6M565.6 279.0V282.2M584.6 279.0V282.2M575.1 277.6V283.6M573.5 277.6H576.7M573.5 283.6H576.7M580.8 252.1H607.2M580.8 250.5V253.7M607.2 250.5V253.7M594.0 250.1V254.1M592.4 250.1H595.6M592.4 254.1H595.6M590.9 239.9H618.3M590.9 238.3V241.5M618.3 238.3V241.5M604.6 231.2V248.6M603.0 231.2H606.2M603.0 248.6H606.2" stroke="#e2776b" stroke-width="0.6" fill="none"/>
<path d="M533.1 308.5 L575.1 280.6 L594.0 252.1 L604.6 239.9" stroke="#dc5a4d" stroke-width="1.2" fill="none" stroke-linejoin="round"/>
<radialGradient id="gri" cx="0.4" cy="0.35" r="0.7"><stop offset="0" stop-color="#ee8f82"/><stop offset="0.5" stop-color="#d9534a"/><stop offset="1" stop-color="#b83e38"/></radialGradient>
<circle cx="533.1" cy="308.5" r="2.5" fill="url(#gri)"/>
<circle cx="575.1" cy="280.6" r="2.5" fill="url(#gri)"/>
<circle cx="594.0" cy="252.1" r="2.5" fill="url(#gri)"/>
<circle cx="604.6" cy="239.9" r="2.5" fill="url(#gri)"/>
<text x="586.7" y="229.2" font-size="9.4" fill="#e0655a">I<tspan dy="-3.57" font-size="5.83">−</tspan></text>
<text x="616.7" y="254.8" font-size="9.4" fill="#f08f73">Cl<tspan dy="-3.57" font-size="5.83">−</tspan></text>
<text x="642.0" y="261.7" font-size="9.3" fill="#dcb894">F<tspan dy="-3.53" font-size="5.77">−</tspan></text>
<text x="653.8" y="261.0" font-size="9.3" fill="#f0a030">Br<tspan dy="-3.53" font-size="5.77">−</tspan></text>
<text x="603.7" y="334.7" font-size="9.3" fill="#6fb0c4" textLength="21.3" lengthAdjust="spacingAndGlyphs">SO<tspan dy="2.60" font-size="5.77">4</tspan><tspan dy="-6.14" font-size="5.77">2−</tspan></text>
<g shape-rendering="geometricPrecision">
<rect x="53.3" y="406.5" width="134.6" height="128.8" fill="#c4d8c2"/>
<path d="M55.1 531.7L56.3 535.3L187.9 535.3L187.9 406.5L53.3 406.5L53.3 526.7L55.1 531.7Z" fill="#d4e2c5" fill-rule="evenodd" stroke="#d4e2c5" stroke-width="0.3"/>
<path d="M58.8 531.7L60.0 535.3L187.9 535.3L187.9 406.5L54.0 406.5L53.3 408.9L53.3 516.0L55.1 521.0L57.6 528.1L58.8 531.7Z" fill="#e0e8c7" fill-rule="evenodd" stroke="#e0e8c7" stroke-width="0.3"/>
<path d="M63.8 535.3L187.9 535.3L187.9 406.5L57.6 406.5L53.3 420.8L53.3 505.2L56.5 513.8L59.3 521.7L62.6 531.7L63.8 535.3Z" fill="#ebeec9" fill-rule="evenodd" stroke="#ebeec9" stroke-width="0.3"/>
<path d="M67.5 535.3L187.9 535.3L187.9 406.5L61.1 406.5L55.8 424.4L53.3 432.7L53.3 494.5L56.6 503.1L59.3 510.4L62.3 519.1L64.1 524.6L66.4 531.7L67.5 535.3Z" fill="#f6f4ca" fill-rule="evenodd" stroke="#f6f4ca" stroke-width="0.3"/>
<path d="M70.2 531.7L71.2 535.3L187.9 535.3L187.9 411.3L186.6 406.5L64.7 406.5L58.3 428.0L53.3 444.7L53.3 463.7L54.5 474.5L55.8 485.2L56.7 492.4L59.4 499.5L62.3 507.5L65.7 517.4L68.3 525.5L70.2 531.7Z" fill="#fbf1c6" fill-rule="evenodd" stroke="#fbf1c6" stroke-width="0.3"/>
<path d="M74.0 531.7L75.0 535.3L187.9 535.3L187.9 423.2L183.2 406.5L68.3 406.5L61.9 428.0L55.5 449.4L56.7 460.2L58.0 470.9L59.4 481.6L60.5 488.8L61.0 492.4L63.6 499.5L66.1 506.7L68.5 513.8L71.2 522.7L72.9 528.1L74.0 531.7Z" fill="#fae8bd" fill-rule="evenodd" stroke="#fae8bd" stroke-width="0.3"/>
<path d="M78.7 535.3L183.0 535.3L187.9 529.2L187.9 435.1L179.9 406.5L71.8 406.5L66.6 424.4L61.2 442.3L59.1 449.4L60.4 460.2L61.9 470.9L63.0 478.1L64.1 485.2L65.3 492.4L68.3 501.0L70.2 506.7L72.4 513.8L74.6 521.0L77.7 531.7L78.7 535.3Z" fill="#f9dbb2" fill-rule="evenodd" stroke="#f9dbb2" stroke-width="0.3"/>
<path d="M82.5 535.3L170.8 535.3L187.9 513.8L187.9 447.0L176.5 406.5L75.4 406.5L69.1 428.0L63.8 445.9L62.7 449.4L64.2 460.2L65.3 467.3L66.4 474.5L67.6 481.6L68.9 488.8L69.5 492.4L71.9 499.5L74.2 506.7L76.4 513.8L78.5 521.0L80.5 528.1L82.5 535.3Z" fill="#f6cca7" fill-rule="evenodd" stroke="#f6cca7" stroke-width="0.3"/>
<path d="M85.3 531.7L86.2 535.3L148.0 535.3L165.5 526.7L187.9 498.5L187.9 478.1L182.3 461.6L182.0 460.2L182.4 449.4L182.2 438.7L181.2 435.1L173.2 406.5L78.9 406.5L72.7 428.0L67.4 445.9L66.3 449.4L67.4 456.6L68.6 463.7L69.8 470.9L71.2 479.2L72.4 485.2L73.8 492.4L76.1 499.5L78.3 506.7L80.4 513.8L82.4 521.0L84.4 528.1L85.3 531.7Z" fill="#f4bc9b" fill-rule="evenodd" stroke="#f4bc9b" stroke-width="0.3"/>
<path d="M89.1 531.7L89.2 532.2L118.0 533.4L120.6 533.9L124.3 531.6L165.5 511.4L180.6 492.4L174.8 475.4L174.6 474.5L175.6 449.4L175.0 428.0L174.9 424.4L169.9 406.5L82.5 406.5L76.3 428.0L71.0 445.9L69.9 449.4L71.7 460.2L73.0 467.3L74.4 474.5L75.8 481.6L77.3 488.8L78.1 492.4L80.3 499.5L82.4 506.7L84.4 513.8L86.3 521.0L88.2 528.1L89.1 531.7Z" fill="#f1ad90" fill-rule="evenodd" stroke="#f1ad90" stroke-width="0.3"/>
<path d="M117.1 521.0L120.6 522.2L154.2 501.9L158.0 499.7L165.5 496.0L168.4 492.4L167.3 489.3L167.2 488.8L168.7 449.4L167.8 413.7L167.5 410.1L166.5 406.5L86.1 406.5L79.9 428.0L73.6 449.4L74.8 456.6L76.2 463.7L77.6 470.9L79.1 478.1L80.7 485.2L82.4 492.4L84.5 499.5L86.5 506.7L88.4 513.8L89.2 516.9L107.5 517.6L117.1 521.0Z" fill="#ef9e84" fill-rule="evenodd" stroke="#ef9e84" stroke-width="0.3"/>
<path d="M119.7 510.3L120.6 510.6L150.8 492.4L120.6 456.0L112.7 461.6L112.2 460.2L118.2 449.4L89.2 408.0L82.4 431.5L77.2 449.4L78.5 456.6L80.2 464.8L81.5 470.9L83.2 478.4L84.8 485.2L86.6 492.4L89.2 501.6L94.4 501.8L97.0 502.2L119.7 510.3ZM119.1 420.8L120.6 422.1L129.1 406.5L102.7 406.5L119.1 420.8Z" fill="#ed9179" fill-rule="evenodd" stroke="#ed9179" stroke-width="0.3"/>
<path d="M112.3 495.9L120.6 498.9L131.4 492.4L120.6 479.3L102.3 492.4L112.3 495.9ZM89.0 485.2L89.2 486.1L109.4 449.4L89.2 420.5L82.9 442.3L80.8 449.4L82.3 456.6L83.8 463.7L85.4 470.9L87.2 478.1L89.0 485.2Z" fill="#eb846d" fill-rule="evenodd" stroke="#eb846d" stroke-width="0.3"/>
<path d="M88.5 467.3L89.2 470.3L100.7 449.4L89.2 433.0L84.4 449.4L86.2 457.6L87.6 463.7L88.5 467.3Z" fill="#e97762" fill-rule="evenodd" stroke="#e97762" stroke-width="0.3"/>
<path d="M88.9 453.0L89.2 454.5L92.0 449.4L89.2 445.4L88.0 449.4L88.9 453.0Z" fill="#e66a58" fill-rule="evenodd" stroke="#e66a58" stroke-width="0.3"/>
</g>
<clipPath id="cppd"><rect x="53.3" y="406.5" width="134.6" height="128.8"/></clipPath><g clip-path="url(#cppd)">
<circle cx="53.3" cy="535.3" r="1.7" fill="url(#gd)"/>
<circle cx="53.3" cy="492.4" r="1.7" fill="url(#gd)"/>
<circle cx="53.3" cy="449.4" r="1.7" fill="url(#gd)"/>
<circle cx="53.3" cy="406.5" r="1.7" fill="url(#gd)"/>
<circle cx="89.2" cy="535.3" r="1.7" fill="url(#gd)"/>
<circle cx="89.2" cy="492.4" r="1.7" fill="url(#gd)"/>
<circle cx="89.2" cy="449.4" r="1.7" fill="url(#gd)"/>
<circle cx="89.2" cy="406.5" r="1.7" fill="url(#gd)"/>
<circle cx="120.6" cy="535.3" r="1.7" fill="url(#gd)"/>
<circle cx="120.6" cy="492.4" r="1.7" fill="url(#gd)"/>
<circle cx="120.6" cy="449.4" r="1.7" fill="url(#gd)"/>
<circle cx="120.6" cy="406.5" r="1.7" fill="url(#gd)"/>
<circle cx="165.5" cy="535.3" r="1.7" fill="url(#gd)"/>
<circle cx="165.5" cy="492.4" r="1.7" fill="url(#gd)"/>
<circle cx="165.5" cy="449.4" r="1.7" fill="url(#gd)"/>
<circle cx="165.5" cy="406.5" r="1.7" fill="url(#gd)"/>
<circle cx="187.9" cy="535.3" r="1.7" fill="url(#gd)"/>
<circle cx="187.9" cy="492.4" r="1.7" fill="url(#gd)"/>
<circle cx="187.9" cy="449.4" r="1.7" fill="url(#gd)"/>
<circle cx="187.9" cy="406.5" r="1.7" fill="url(#gd)"/>
</g>
<rect x="53.3" y="406.5" width="134.6" height="128.8" fill="none" stroke="#6a6a6a" stroke-width="1"/>
<path d="M49.0 535.3H53.3" stroke="#6a6a6a" stroke-width="1"/>
<text x="44.1" y="538.4" font-size="9.9" text-anchor="end" fill="#222" textLength="16.5" lengthAdjust="spacingAndGlyphs">400</text>
<path d="M49.0 492.4H53.3" stroke="#6a6a6a" stroke-width="1"/>
<text x="44.1" y="495.5" font-size="9.9" text-anchor="end" fill="#222" textLength="16.5" lengthAdjust="spacingAndGlyphs">600</text>
<path d="M49.0 449.4H53.3" stroke="#6a6a6a" stroke-width="1"/>
<text x="44.1" y="452.5" font-size="9.9" text-anchor="end" fill="#222" textLength="16.5" lengthAdjust="spacingAndGlyphs">800</text>
<path d="M49.0 406.5H53.3" stroke="#6a6a6a" stroke-width="1"/>
<text x="44.1" y="409.6" font-size="9.9" text-anchor="end" fill="#222" textLength="23.0" lengthAdjust="spacingAndGlyphs">1,000</text>
<path d="M53.3 535.3V539.6" stroke="#6a6a6a" stroke-width="1"/>
<text x="52.7" y="550.6" font-size="9.9" text-anchor="middle" fill="#222" textLength="5.3" lengthAdjust="spacingAndGlyphs">0</text>
<path d="M98.2 535.3V539.6" stroke="#6a6a6a" stroke-width="1"/>
<text x="97.6" y="550.6" font-size="9.9" text-anchor="middle" fill="#222" textLength="5.3" lengthAdjust="spacingAndGlyphs">1</text>
<path d="M143.0 535.3V539.6" stroke="#6a6a6a" stroke-width="1"/>
<text x="142.4" y="550.6" font-size="9.9" text-anchor="middle" fill="#222" textLength="5.3" lengthAdjust="spacingAndGlyphs">2</text>
<path d="M187.9 535.3V539.6" stroke="#6a6a6a" stroke-width="1"/>
<text x="187.3" y="550.6" font-size="9.9" text-anchor="middle" fill="#222" textLength="5.3" lengthAdjust="spacingAndGlyphs">3</text>
<text x="121.1" y="567.2" font-size="10.3" text-anchor="middle" fill="#111" textLength="117.0" lengthAdjust="spacingAndGlyphs">Iodide concentration (M)</text>
<text x="160.5" y="418.2" font-size="10.3" fill="#222" textLength="23.5" lengthAdjust="spacingAndGlyphs">C<tspan dy="2.88" font-size="6.39">2</tspan><tspan dy="-2.88">H</tspan><tspan dy="2.88" font-size="6.39">4</tspan></text>
<linearGradient id="cbd" x1="0" y1="1" x2="0" y2="0">
<stop offset="0.0000" stop-color="#4789b0"/>
<stop offset="0.0115" stop-color="#4a8cb2"/>
<stop offset="0.0247" stop-color="#4d8fb4"/>
<stop offset="0.0379" stop-color="#5093b5"/>
<stop offset="0.0511" stop-color="#5596b6"/>
<stop offset="0.0643" stop-color="#5a99b7"/>
<stop offset="0.0775" stop-color="#5e9cb8"/>
<stop offset="0.0907" stop-color="#639fb8"/>
<stop offset="0.1040" stop-color="#68a2b9"/>
<stop offset="0.1172" stop-color="#6da5ba"/>
<stop offset="0.1304" stop-color="#72a8bb"/>
<stop offset="0.1436" stop-color="#76abbc"/>
<stop offset="0.1568" stop-color="#7baebc"/>
<stop offset="0.1700" stop-color="#80b1bd"/>
<stop offset="0.1833" stop-color="#85b4bd"/>
<stop offset="0.1965" stop-color="#8bb7be"/>
<stop offset="0.2097" stop-color="#90babe"/>
<stop offset="0.2229" stop-color="#96bdbe"/>
<stop offset="0.2361" stop-color="#9bc1bf"/>
<stop offset="0.2493" stop-color="#a0c4bf"/>
<stop offset="0.2626" stop-color="#a6c7bf"/>
<stop offset="0.2758" stop-color="#abcabf"/>
<stop offset="0.2890" stop-color="#b1cdc0"/>
<stop offset="0.3022" stop-color="#b6d1c0"/>
<stop offset="0.3154" stop-color="#bbd3c1"/>
<stop offset="0.3286" stop-color="#c0d6c2"/>
<stop offset="0.3419" stop-color="#c5d9c3"/>
<stop offset="0.3551" stop-color="#cadcc3"/>
<stop offset="0.3683" stop-color="#cedfc4"/>
<stop offset="0.3815" stop-color="#d3e1c5"/>
<stop offset="0.3947" stop-color="#d8e4c6"/>
<stop offset="0.4079" stop-color="#dde7c7"/>
<stop offset="0.4211" stop-color="#e2eac7"/>
<stop offset="0.4344" stop-color="#e7ecc8"/>
<stop offset="0.4476" stop-color="#ebeec9"/>
<stop offset="0.4608" stop-color="#eff0c9"/>
<stop offset="0.4740" stop-color="#f3f2ca"/>
<stop offset="0.4872" stop-color="#f8f4cb"/>
<stop offset="0.5004" stop-color="#fbf5ca"/>
<stop offset="0.5137" stop-color="#fbf1c6"/>
<stop offset="0.5269" stop-color="#fbeec3"/>
<stop offset="0.5401" stop-color="#faeabf"/>
<stop offset="0.5533" stop-color="#fae6bb"/>
<stop offset="0.5665" stop-color="#fae2b7"/>
<stop offset="0.5797" stop-color="#f9dcb2"/>
<stop offset="0.5930" stop-color="#f8d5ae"/>
<stop offset="0.6062" stop-color="#f7cfa9"/>
<stop offset="0.6194" stop-color="#f6c9a5"/>
<stop offset="0.6326" stop-color="#f5c3a0"/>
<stop offset="0.6458" stop-color="#f4bd9b"/>
<stop offset="0.6590" stop-color="#f3b697"/>
<stop offset="0.6722" stop-color="#f2b092"/>
<stop offset="0.6855" stop-color="#f1aa8e"/>
<stop offset="0.6987" stop-color="#f0a489"/>
<stop offset="0.7119" stop-color="#ef9f84"/>
<stop offset="0.7251" stop-color="#ee9980"/>
<stop offset="0.7383" stop-color="#ed947b"/>
<stop offset="0.7515" stop-color="#ed8f77"/>
<stop offset="0.7648" stop-color="#ec8972"/>
<stop offset="0.7780" stop-color="#eb846d"/>
<stop offset="0.7912" stop-color="#ea7f69"/>
<stop offset="0.8044" stop-color="#e97a64"/>
<stop offset="0.8176" stop-color="#e97460"/>
<stop offset="0.8308" stop-color="#e86f5b"/>
<stop offset="0.8441" stop-color="#e66a58"/>
<stop offset="0.8573" stop-color="#e56555"/>
<stop offset="0.8705" stop-color="#e36152"/>
<stop offset="0.8837" stop-color="#e25c4f"/>
<stop offset="0.8969" stop-color="#e0574b"/>
<stop offset="0.9101" stop-color="#df5248"/>
<stop offset="0.9233" stop-color="#dd4d45"/>
<stop offset="0.9366" stop-color="#dc4942"/>
<stop offset="0.9498" stop-color="#da443f"/>
<stop offset="0.9630" stop-color="#d9403c"/>
<stop offset="0.9762" stop-color="#d83e3a"/>
<stop offset="0.9894" stop-color="#d73c39"/>
</linearGradient>
<rect x="195.2" y="445.1" width="10.9" height="90.8" fill="url(#cbd)" stroke="#777" stroke-width="0.6"/>
<path d="M206.1 532.7H208.3" stroke="#6a6a6a" stroke-width="0.7"/>
<text x="212.0" y="535.6" font-size="9.7" fill="#222" textLength="18.1" lengthAdjust="spacingAndGlyphs">10.0</text>
<path d="M206.1 520.7H208.3" stroke="#6a6a6a" stroke-width="0.7"/>
<text x="212.0" y="523.6" font-size="9.7" fill="#222" textLength="18.1" lengthAdjust="spacingAndGlyphs">15.0</text>
<path d="M206.1 508.7H208.3" stroke="#6a6a6a" stroke-width="0.7"/>
<text x="212.0" y="511.6" font-size="9.7" fill="#222" textLength="18.1" lengthAdjust="spacingAndGlyphs">20.0</text>
<path d="M206.1 496.7H208.3" stroke="#6a6a6a" stroke-width="0.7"/>
<text x="212.0" y="499.6" font-size="9.7" fill="#222" textLength="18.1" lengthAdjust="spacingAndGlyphs">25.0</text>
<path d="M206.1 484.7H208.3" stroke="#6a6a6a" stroke-width="0.7"/>
<text x="212.0" y="487.6" font-size="9.7" fill="#222" textLength="18.1" lengthAdjust="spacingAndGlyphs">30.0</text>
<path d="M206.1 472.7H208.3" stroke="#6a6a6a" stroke-width="0.7"/>
<text x="212.0" y="475.6" font-size="9.7" fill="#222" textLength="18.1" lengthAdjust="spacingAndGlyphs">35.0</text>
<path d="M206.1 460.7H208.3" stroke="#6a6a6a" stroke-width="0.7"/>
<text x="212.0" y="463.6" font-size="9.7" fill="#222" textLength="18.1" lengthAdjust="spacingAndGlyphs">40.0</text>
<path d="M206.1 448.7H208.3" stroke="#6a6a6a" stroke-width="0.7"/>
<text x="212.0" y="451.6" font-size="9.7" fill="#222" textLength="18.1" lengthAdjust="spacingAndGlyphs">45.0</text>
<text x="194.8" y="435.1" font-size="10.3" fill="#111" textLength="27.8" lengthAdjust="spacingAndGlyphs">FE (%)</text>
<text x="12.3" y="470.7" font-size="10.3" text-anchor="middle" fill="#111" textLength="124.2" lengthAdjust="spacingAndGlyphs" transform="rotate(-90 12.3 470.7)">Current density (mA cm<tspan dy="-3.91" font-size="6.39">−2</tspan><tspan dy="3.91">)</tspan></text>
<g shape-rendering="geometricPrecision">
<rect x="273.5" y="406.5" width="135.0" height="128.8" fill="#4e91b4"/>
<path d="M273.5 535.3L408.5 535.3L408.5 406.5L273.5 406.5L273.5 535.3ZM341.0 493.9L339.7 492.4L341.0 491.0L342.3 492.4L341.0 493.9Z" fill="#5596b6" fill-rule="evenodd" stroke="#5596b6" stroke-width="0.3"/>
<path d="M273.5 535.3L408.5 535.3L408.5 406.5L273.5 406.5L273.5 535.3ZM341.0 506.9L328.6 492.4L341.0 479.2L352.8 492.4L341.0 506.9Z" fill="#619db8" fill-rule="evenodd" stroke="#619db8" stroke-width="0.3"/>
<path d="M273.5 535.3L408.5 535.3L408.5 406.5L390.1 406.5L389.8 413.7L386.0 418.6L371.0 421.9L368.2 420.8L355.1 406.5L273.5 406.5L273.5 535.3ZM341.0 519.8L317.5 492.4L341.0 467.4L363.3 492.4L341.0 519.8Z" fill="#6da5ba" fill-rule="evenodd" stroke="#6da5ba" stroke-width="0.3"/>
<path d="M273.5 535.3L308.7 535.3L308.8 506.7L308.9 492.4L308.6 478.1L308.1 463.7L307.7 453.0L307.5 449.4L307.7 424.4L307.8 406.5L273.5 406.5L273.5 535.3ZM332.1 531.7L333.1 535.3L408.5 535.3L408.5 406.5L394.7 406.5L394.1 420.8L393.5 422.5L386.0 432.4L352.2 439.8L349.4 438.7L341.0 429.5L322.6 424.1L322.4 424.4L327.3 449.4L321.2 474.5L322.6 475.1L341.0 455.6L373.8 492.4L341.0 532.7L330.5 520.5L328.9 521.0L332.1 531.7Z" fill="#79acbc" fill-rule="evenodd" stroke="#79acbc" stroke-width="0.3"/>
<path d="M273.5 535.3L307.4 535.3L307.2 513.8L307.0 499.5L306.8 492.4L306.4 481.6L305.9 470.9L305.3 460.2L304.9 453.0L304.7 449.4L304.3 435.1L304.0 424.4L303.5 412.6L303.2 406.5L273.5 406.5L273.5 535.3ZM347.0 535.3L408.5 535.3L408.5 406.5L399.3 406.5L398.4 428.0L397.2 431.3L386.0 446.1L371.0 449.4L374.8 481.6L384.3 492.4L378.5 499.5L347.0 535.3Z" fill="#86b4bd" fill-rule="evenodd" stroke="#86b4bd" stroke-width="0.3"/>
<path d="M273.5 535.3L306.1 535.3L305.7 521.0L305.4 510.3L305.1 499.5L304.8 492.4L304.2 481.6L303.5 470.9L303.0 463.7L302.4 456.6L301.8 449.4L301.2 438.7L300.8 431.5L300.3 424.4L299.7 417.2L299.0 410.1L298.6 406.5L273.5 406.5L273.5 535.3ZM354.5 535.3L408.5 535.3L408.5 406.5L403.9 406.5L402.7 435.1L402.0 438.7L393.9 449.4L394.4 474.5L394.0 478.1L390.5 492.4L388.9 495.9L387.9 497.5L386.0 499.5L354.5 535.3Z" fill="#93bcbe" fill-rule="evenodd" stroke="#93bcbe" stroke-width="0.3"/>
<path d="M273.5 535.3L304.7 535.3L304.4 524.6L303.9 513.8L303.4 503.1L302.9 495.9L301.9 481.6L301.4 474.5L300.4 463.7L299.7 456.6L298.9 449.4L298.3 442.3L297.4 431.5L296.6 424.4L295.6 417.2L295.1 413.7L294.5 409.8L293.9 406.5L273.5 406.5L273.5 535.3ZM362.0 535.3L408.5 535.3L408.5 406.5L406.8 445.9L406.6 446.4L404.3 449.4L404.5 456.6L403.7 460.2L395.8 492.4L391.6 501.7L390.7 503.1L386.0 508.0L362.0 535.3Z" fill="#a1c4bf" fill-rule="evenodd" stroke="#a1c4bf" stroke-width="0.3"/>
<path d="M273.5 535.3L303.4 535.3L302.9 524.6L302.5 517.4L302.1 510.3L301.6 503.1L300.9 495.9L300.5 491.3L299.7 481.6L299.0 474.5L298.3 467.3L297.4 460.2L296.5 453.0L296.0 449.4L295.3 442.3L294.4 435.1L293.4 428.0L292.9 424.4L292.3 420.8L291.5 416.6L290.9 413.7L290.1 410.1L289.3 406.5L273.5 406.5L273.5 535.3ZM369.5 535.3L408.5 535.3L408.5 462.3L401.1 492.4L394.7 506.7L393.5 508.6L386.0 516.6L369.5 535.3Z" fill="#aeccc0" fill-rule="evenodd" stroke="#aeccc0" stroke-width="0.3"/>
<path d="M273.5 535.3L302.1 535.3L301.5 524.6L301.0 517.4L300.4 510.3L299.7 503.1L298.9 495.9L298.5 492.4L297.8 485.2L297.1 478.1L296.2 470.9L295.3 463.7L294.3 456.6L293.1 449.4L292.2 442.3L291.1 435.1L290.5 431.5L289.9 428.0L289.2 424.4L288.4 420.8L287.6 417.2L286.7 413.7L285.5 409.3L284.6 406.5L273.5 406.5L273.5 535.3ZM377.0 535.3L408.5 535.3L408.5 483.8L406.4 492.4L397.2 512.9L396.6 513.8L386.0 525.1L377.0 535.3Z" fill="#bbd4c1" fill-rule="evenodd" stroke="#bbd4c1" stroke-width="0.3"/>
<path d="M273.5 535.3L300.8 535.3L300.3 528.1L299.7 521.0L299.1 513.8L298.3 506.7L297.5 499.5L297.0 495.9L296.4 492.4L295.6 485.2L294.3 474.5L293.3 467.3L292.2 460.2L290.9 453.0L290.2 449.4L289.1 442.3L288.5 438.7L287.8 435.1L287.1 431.5L286.3 428.0L285.5 424.4L284.6 420.8L283.6 417.2L282.5 413.7L281.3 410.1L280.0 406.5L273.5 406.5L273.5 535.3ZM384.5 535.3L408.5 535.3L408.5 499.5L400.5 517.4L399.1 519.7L386.0 533.6L384.5 535.3Z" fill="#c7dac3" fill-rule="evenodd" stroke="#c7dac3" stroke-width="0.3"/>
<path d="M273.5 535.3L299.4 535.3L298.9 528.1L298.2 521.0L297.5 513.8L296.6 506.7L296.1 503.1L295.6 499.5L294.3 492.4L293.5 485.2L292.5 478.1L291.4 470.9L290.2 463.7L288.9 456.6L288.1 453.0L287.3 449.4L286.7 445.9L285.3 438.7L284.5 435.1L283.7 431.5L282.5 427.0L281.8 424.4L280.7 420.8L279.5 417.1L278.3 413.7L276.5 409.1L275.4 406.5L273.5 406.5L273.5 535.3ZM392.4 535.3L408.5 535.3L408.5 511.4L402.9 524.1L402.6 524.6L392.4 535.3Z" fill="#d4e2c5" fill-rule="evenodd" stroke="#d4e2c5" stroke-width="0.3"/>
<path d="M273.5 535.3L298.1 535.3L297.5 528.1L296.7 521.0L295.8 513.8L294.8 506.7L294.3 503.1L293.7 499.5L293.0 495.9L292.2 492.4L291.3 485.2L290.2 478.1L289.0 470.9L287.6 463.7L286.9 460.2L285.3 453.0L284.5 449.4L283.7 445.9L282.1 438.7L281.2 435.1L280.2 431.5L279.2 428.0L278.1 424.4L276.5 419.9L275.5 417.2L273.5 412.4L273.5 535.3ZM400.5 535.3L408.5 535.3L408.5 523.4L406.4 528.1L404.8 530.8L400.5 535.3Z" fill="#e0e8c7" fill-rule="evenodd" stroke="#e0e8c7" stroke-width="0.3"/>
<path d="M273.5 535.3L296.8 535.3L296.0 528.1L295.2 521.0L294.2 513.8L293.7 510.3L293.1 506.7L292.4 503.1L291.5 498.3L290.2 492.4L289.1 485.2L287.9 478.1L286.6 470.9L285.1 463.7L284.3 460.2L283.4 456.6L282.5 452.9L281.6 449.4L280.7 445.9L279.5 440.9L277.9 435.1L276.5 430.6L275.6 428.0L274.4 424.4L273.5 422.1L273.5 535.3Z" fill="#ebeec9" fill-rule="evenodd" stroke="#ebeec9" stroke-width="0.3"/>
<path d="M273.5 535.3L295.5 535.3L294.5 527.0L293.7 521.0L292.6 513.8L291.3 506.7L290.6 503.1L289.9 499.5L288.5 493.9L288.1 492.4L286.9 485.2L285.5 477.6L284.1 470.9L283.4 467.3L282.5 463.6L281.7 460.2L280.7 456.6L279.5 452.2L278.7 449.4L277.8 445.9L276.5 441.3L275.7 438.7L274.6 435.1L273.5 431.9L273.5 535.3Z" fill="#f6f4ca" fill-rule="evenodd" stroke="#f6f4ca" stroke-width="0.3"/>
<path d="M273.5 535.3L294.1 535.3L293.2 528.1L292.2 521.0L291.5 516.8L290.3 510.3L289.6 506.7L288.5 501.8L287.0 495.9L286.0 492.4L284.7 485.2L283.3 478.1L281.7 470.9L280.9 467.3L279.0 460.2L278.0 456.6L276.5 451.6L275.8 449.4L274.8 445.9L273.5 441.6L273.5 535.3Z" fill="#fbf1c6" fill-rule="evenodd" stroke="#fbf1c6" stroke-width="0.3"/>
<path d="M273.5 535.3L292.8 535.3L291.8 528.1L290.7 521.0L290.0 517.4L289.4 513.8L288.5 509.6L287.8 506.7L287.0 503.1L285.5 497.6L283.9 492.4L282.5 485.1L281.0 478.1L279.3 470.9L278.4 467.3L277.4 463.7L276.4 460.2L275.3 456.6L273.5 451.1L273.5 535.3Z" fill="#fae8bd" fill-rule="evenodd" stroke="#fae8bd" stroke-width="0.3"/>
<path d="M273.5 535.3L291.5 535.3L290.4 528.1L289.2 521.0L288.5 517.4L287.7 513.8L286.9 510.3L285.5 504.4L284.1 499.5L282.5 494.3L281.8 492.4L280.3 485.2L278.7 478.1L277.8 474.5L276.5 469.5L274.9 463.7L273.5 459.3L273.5 535.3Z" fill="#f9dbb2" fill-rule="evenodd" stroke="#f9dbb2" stroke-width="0.3"/>
<path d="M273.5 535.3L290.2 535.3L289.0 528.1L288.4 524.6L287.7 521.0L286.9 517.4L285.3 510.3L284.3 506.7L283.3 503.1L282.2 499.5L281.1 495.9L279.8 492.4L278.2 485.2L276.4 478.1L275.5 474.5L274.5 470.9L273.5 467.6L273.5 535.3Z" fill="#f6cca7" fill-rule="evenodd" stroke="#f6cca7" stroke-width="0.3"/>
<path d="M273.5 535.3L288.9 535.3L287.6 528.1L286.9 524.6L285.4 517.4L284.5 513.8L283.6 510.3L282.5 506.4L281.5 503.1L280.3 499.5L279.1 495.9L277.7 492.4L276.0 485.2L275.1 481.6L273.5 475.9L273.5 535.3Z" fill="#f4bc9b" fill-rule="evenodd" stroke="#f4bc9b" stroke-width="0.3"/>
<path d="M273.5 535.3L287.5 535.3L286.9 531.7L285.4 524.6L284.6 521.0L283.8 517.4L282.5 512.4L280.8 506.7L279.5 502.5L278.4 499.5L276.5 494.5L275.6 492.4L274.7 488.8L273.5 484.1L273.5 535.3Z" fill="#f1ad90" fill-rule="evenodd" stroke="#f1ad90" stroke-width="0.3"/>
<path d="M273.5 535.3L286.2 535.3L285.5 531.7L284.8 528.1L284.0 524.6L282.2 517.4L281.3 513.8L280.2 510.3L279.1 506.7L277.9 503.1L276.5 499.4L275.1 495.9L273.5 492.4L273.5 535.3Z" fill="#ef9e84" fill-rule="evenodd" stroke="#ef9e84" stroke-width="0.3"/>
<path d="M273.5 535.3L284.9 535.3L284.1 531.7L283.4 528.1L282.5 524.4L281.6 521.0L280.7 517.4L279.5 513.3L278.5 510.3L277.3 506.7L276.1 503.1L274.6 499.5L273.5 496.8L273.5 535.3Z" fill="#ed9179" fill-rule="evenodd" stroke="#ed9179" stroke-width="0.3"/>
<path d="M273.5 535.3L283.6 535.3L282.5 530.5L281.1 524.6L279.1 517.4L278.0 513.8L276.5 509.2L275.6 506.7L274.2 503.1L273.5 501.3L273.5 535.3Z" fill="#eb846d" fill-rule="evenodd" stroke="#eb846d" stroke-width="0.3"/>
<path d="M273.5 535.3L282.2 535.3L281.4 531.7L280.5 528.1L279.5 524.1L278.6 521.0L277.6 517.4L276.4 513.8L275.2 510.3L273.5 505.8L273.5 535.3Z" fill="#e97762" fill-rule="evenodd" stroke="#e97762" stroke-width="0.3"/>
<path d="M273.5 535.3L280.9 535.3L279.1 528.1L278.2 524.6L276.5 519.0L274.8 513.8L273.5 510.3L273.5 535.3Z" fill="#e66a58" fill-rule="evenodd" stroke="#e66a58" stroke-width="0.3"/>
<path d="M273.5 535.3L279.6 535.3L278.7 531.7L277.7 528.1L276.5 523.9L275.6 521.0L274.4 517.4L273.5 514.7L273.5 535.3Z" fill="#e25e50" fill-rule="evenodd" stroke="#e25e50" stroke-width="0.3"/>
<path d="M273.5 535.3L278.3 535.3L277.3 531.7L276.3 528.1L275.2 524.6L273.5 519.2L273.5 535.3Z" fill="#df5248" fill-rule="evenodd" stroke="#df5248" stroke-width="0.3"/>
<path d="M273.5 535.3L276.9 535.3L276.0 531.7L274.9 528.1L273.5 523.7L273.5 535.3Z" fill="#db4640" fill-rule="evenodd" stroke="#db4640" stroke-width="0.3"/>
<path d="M273.5 535.3L275.6 535.3L274.6 531.7L273.5 528.1L273.5 535.3Z" fill="#d83e3a" fill-rule="evenodd" stroke="#d83e3a" stroke-width="0.3"/>
<path d="M273.5 535.3L274.3 535.3L273.5 532.6L273.5 535.3Z" fill="#d63a38" fill-rule="evenodd" stroke="#d63a38" stroke-width="0.3"/>
</g>
<clipPath id="cppe"><rect x="273.5" y="406.5" width="135.0" height="128.8"/></clipPath><g clip-path="url(#cppe)">
<circle cx="273.5" cy="535.3" r="1.7" fill="url(#gd)"/>
<circle cx="273.5" cy="492.4" r="1.7" fill="url(#gd)"/>
<circle cx="273.5" cy="449.4" r="1.7" fill="url(#gd)"/>
<circle cx="273.5" cy="406.5" r="1.7" fill="url(#gd)"/>
<circle cx="309.5" cy="535.3" r="1.7" fill="url(#gd)"/>
<circle cx="309.5" cy="492.4" r="1.7" fill="url(#gd)"/>
<circle cx="309.5" cy="449.4" r="1.7" fill="url(#gd)"/>
<circle cx="309.5" cy="406.5" r="1.7" fill="url(#gd)"/>
<circle cx="341.0" cy="535.3" r="1.7" fill="url(#gd)"/>
<circle cx="341.0" cy="492.4" r="1.7" fill="url(#gd)"/>
<circle cx="341.0" cy="449.4" r="1.7" fill="url(#gd)"/>
<circle cx="341.0" cy="406.5" r="1.7" fill="url(#gd)"/>
<circle cx="386.0" cy="535.3" r="1.7" fill="url(#gd)"/>
<circle cx="386.0" cy="492.4" r="1.7" fill="url(#gd)"/>
<circle cx="386.0" cy="449.4" r="1.7" fill="url(#gd)"/>
<circle cx="386.0" cy="406.5" r="1.7" fill="url(#gd)"/>
<circle cx="408.5" cy="535.3" r="1.7" fill="url(#gd)"/>
<circle cx="408.5" cy="492.4" r="1.7" fill="url(#gd)"/>
<circle cx="408.5" cy="449.4" r="1.7" fill="url(#gd)"/>
<circle cx="408.5" cy="406.5" r="1.7" fill="url(#gd)"/>
</g>
<rect x="273.5" y="406.5" width="135.0" height="128.8" fill="none" stroke="#6a6a6a" stroke-width="1"/>
<path d="M269.2 535.3H273.5" stroke="#6a6a6a" stroke-width="1"/>
<text x="264.3" y="538.4" font-size="9.9" text-anchor="end" fill="#222" textLength="16.5" lengthAdjust="spacingAndGlyphs">400</text>
<path d="M269.2 492.4H273.5" stroke="#6a6a6a" stroke-width="1"/>
<text x="264.3" y="495.5" font-size="9.9" text-anchor="end" fill="#222" textLength="16.5" lengthAdjust="spacingAndGlyphs">600</text>
<path d="M269.2 449.4H273.5" stroke="#6a6a6a" stroke-width="1"/>
<text x="264.3" y="452.5" font-size="9.9" text-anchor="end" fill="#222" textLength="16.5" lengthAdjust="spacingAndGlyphs">800</text>
<path d="M269.2 406.5H273.5" stroke="#6a6a6a" stroke-width="1"/>
<text x="264.3" y="409.6" font-size="9.9" text-anchor="end" fill="#222" textLength="23.0" lengthAdjust="spacingAndGlyphs">1,000</text>
<path d="M273.5 535.3V539.6" stroke="#6a6a6a" stroke-width="1"/>
<text x="272.9" y="550.6" font-size="9.9" text-anchor="middle" fill="#222" textLength="5.3" lengthAdjust="spacingAndGlyphs">0</text>
<path d="M318.5 535.3V539.6" stroke="#6a6a6a" stroke-width="1"/>
<text x="317.9" y="550.6" font-size="9.9" text-anchor="middle" fill="#222" textLength="5.3" lengthAdjust="spacingAndGlyphs">1</text>
<path d="M363.5 535.3V539.6" stroke="#6a6a6a" stroke-width="1"/>
<text x="362.9" y="550.6" font-size="9.9" text-anchor="middle" fill="#222" textLength="5.3" lengthAdjust="spacingAndGlyphs">2</text>
<path d="M408.5 535.3V539.6" stroke="#6a6a6a" stroke-width="1"/>
<text x="407.9" y="550.6" font-size="9.9" text-anchor="middle" fill="#222" textLength="5.3" lengthAdjust="spacingAndGlyphs">3</text>
<text x="341.5" y="567.2" font-size="10.3" text-anchor="middle" fill="#111" textLength="117.0" lengthAdjust="spacingAndGlyphs">Iodide concentration (M)</text>
<text x="388.4" y="418.2" font-size="10.3" fill="#222" textLength="14.7" lengthAdjust="spacingAndGlyphs">CO</text>
<linearGradient id="cbe" x1="0" y1="1" x2="0" y2="0">
<stop offset="0.0000" stop-color="#4789b0"/>
<stop offset="0.0115" stop-color="#4a8cb2"/>
<stop offset="0.0247" stop-color="#4d8fb4"/>
<stop offset="0.0379" stop-color="#5093b5"/>
<stop offset="0.0511" stop-color="#5596b6"/>
<stop offset="0.0643" stop-color="#5a99b7"/>
<stop offset="0.0775" stop-color="#5e9cb8"/>
<stop offset="0.0907" stop-color="#639fb8"/>
<stop offset="0.1040" stop-color="#68a2b9"/>
<stop offset="0.1172" stop-color="#6da5ba"/>
<stop offset="0.1304" stop-color="#72a8bb"/>
<stop offset="0.1436" stop-color="#76abbc"/>
<stop offset="0.1568" stop-color="#7baebc"/>
<stop offset="0.1700" stop-color="#80b1bd"/>
<stop offset="0.1833" stop-color="#85b4bd"/>
<stop offset="0.1965" stop-color="#8bb7be"/>
<stop offset="0.2097" stop-color="#90babe"/>
<stop offset="0.2229" stop-color="#96bdbe"/>
<stop offset="0.2361" stop-color="#9bc1bf"/>
<stop offset="0.2493" stop-color="#a0c4bf"/>
<stop offset="0.2626" stop-color="#a6c7bf"/>
<stop offset="0.2758" stop-color="#abcabf"/>
<stop offset="0.2890" stop-color="#b1cdc0"/>
<stop offset="0.3022" stop-color="#b6d1c0"/>
<stop offset="0.3154" stop-color="#bbd3c1"/>
<stop offset="0.3286" stop-color="#c0d6c2"/>
<stop offset="0.3419" stop-color="#c5d9c3"/>
<stop offset="0.3551" stop-color="#cadcc3"/>
<stop offset="0.3683" stop-color="#cedfc4"/>
<stop offset="0.3815" stop-color="#d3e1c5"/>
<stop offset="0.3947" stop-color="#d8e4c6"/>
<stop offset="0.4079" stop-color="#dde7c7"/>
<stop offset="0.4211" stop-color="#e2eac7"/>
<stop offset="0.4344" stop-color="#e7ecc8"/>
<stop offset="0.4476" stop-color="#ebeec9"/>
<stop offset="0.4608" stop-color="#eff0c9"/>
<stop offset="0.4740" stop-color="#f3f2ca"/>
<stop offset="0.4872" stop-color="#f8f4cb"/>
<stop offset="0.5004" stop-color="#fbf5ca"/>
<stop offset="0.5137" stop-color="#fbf1c6"/>
<stop offset="0.5269" stop-color="#fbeec3"/>
<stop offset="0.5401" stop-color="#faeabf"/>
<stop offset="0.5533" stop-color="#fae6bb"/>
<stop offset="0.5665" stop-color="#fae2b7"/>
<stop offset="0.5797" stop-color="#f9dcb2"/>
<stop offset="0.5930" stop-color="#f8d5ae"/>
<stop offset="0.6062" stop-color="#f7cfa9"/>
<stop offset="0.6194" stop-color="#f6c9a5"/>
<stop offset="0.6326" stop-color="#f5c3a0"/>
<stop offset="0.6458" stop-color="#f4bd9b"/>
<stop offset="0.6590" stop-color="#f3b697"/>
<stop offset="0.6722" stop-color="#f2b092"/>
<stop offset="0.6855" stop-color="#f1aa8e"/>
<stop offset="0.6987" stop-color="#f0a489"/>
<stop offset="0.7119" stop-color="#ef9f84"/>
<stop offset="0.7251" stop-color="#ee9980"/>
<stop offset="0.7383" stop-color="#ed947b"/>
<stop offset="0.7515" stop-color="#ed8f77"/>
<stop offset="0.7648" stop-color="#ec8972"/>
<stop offset="0.7780" stop-color="#eb846d"/>
<stop offset="0.7912" stop-color="#ea7f69"/>
<stop offset="0.8044" stop-color="#e97a64"/>
<stop offset="0.8176" stop-color="#e97460"/>
<stop offset="0.8308" stop-color="#e86f5b"/>
<stop offset="0.8441" stop-color="#e66a58"/>
<stop offset="0.8573" stop-color="#e56555"/>
<stop offset="0.8705" stop-color="#e36152"/>
<stop offset="0.8837" stop-color="#e25c4f"/>
<stop offset="0.8969" stop-color="#e0574b"/>
<stop offset="0.9101" stop-color="#df5248"/>
<stop offset="0.9233" stop-color="#dd4d45"/>
<stop offset="0.9366" stop-color="#dc4942"/>
<stop offset="0.9498" stop-color="#da443f"/>
<stop offset="0.9630" stop-color="#d9403c"/>
<stop offset="0.9762" stop-color="#d83e3a"/>
<stop offset="0.9894" stop-color="#d73c39"/>
</linearGradient>
<rect x="414.8" y="445.1" width="10.5" height="90.8" fill="url(#cbe)" stroke="#777" stroke-width="0.6"/>
<path d="M425.3 532.7H427.5" stroke="#6a6a6a" stroke-width="0.7"/>
<text x="431.2" y="535.6" font-size="9.7" fill="#222" textLength="18.1" lengthAdjust="spacingAndGlyphs">10.0</text>
<path d="M425.3 520.7H427.5" stroke="#6a6a6a" stroke-width="0.7"/>
<text x="431.2" y="523.6" font-size="9.7" fill="#222" textLength="18.1" lengthAdjust="spacingAndGlyphs">15.0</text>
<path d="M425.3 508.7H427.5" stroke="#6a6a6a" stroke-width="0.7"/>
<text x="431.2" y="511.6" font-size="9.7" fill="#222" textLength="18.1" lengthAdjust="spacingAndGlyphs">20.0</text>
<path d="M425.3 496.7H427.5" stroke="#6a6a6a" stroke-width="0.7"/>
<text x="431.2" y="499.6" font-size="9.7" fill="#222" textLength="18.1" lengthAdjust="spacingAndGlyphs">25.0</text>
<path d="M425.3 484.7H427.5" stroke="#6a6a6a" stroke-width="0.7"/>
<text x="431.2" y="487.6" font-size="9.7" fill="#222" textLength="18.1" lengthAdjust="spacingAndGlyphs">30.0</text>
<path d="M425.3 472.7H427.5" stroke="#6a6a6a" stroke-width="0.7"/>
<text x="431.2" y="475.6" font-size="9.7" fill="#222" textLength="18.1" lengthAdjust="spacingAndGlyphs">35.0</text>
<path d="M425.3 460.7H427.5" stroke="#6a6a6a" stroke-width="0.7"/>
<text x="431.2" y="463.6" font-size="9.7" fill="#222" textLength="18.1" lengthAdjust="spacingAndGlyphs">40.0</text>
<path d="M425.3 448.7H427.5" stroke="#6a6a6a" stroke-width="0.7"/>
<text x="431.2" y="451.6" font-size="9.7" fill="#222" textLength="18.1" lengthAdjust="spacingAndGlyphs">45.0</text>
<text x="414.4" y="435.1" font-size="10.3" fill="#111" textLength="27.8" lengthAdjust="spacingAndGlyphs">FE (%)</text>
<rect x="520.5" y="406.9" width="162.4" height="128.3" fill="#fff" stroke="#6a6a6a" stroke-width="1"/>
<path d="M516.5 535.2H520.5" stroke="#6a6a6a" stroke-width="1"/>
<text x="512.1" y="538.3" font-size="9.9" text-anchor="end" fill="#222" textLength="5.2" lengthAdjust="spacingAndGlyphs">0</text>
<path d="M516.5 505.2H520.5" stroke="#6a6a6a" stroke-width="1"/>
<text x="512.1" y="508.3" font-size="9.9" text-anchor="end" fill="#222" textLength="16.4" lengthAdjust="spacingAndGlyphs">100</text>
<path d="M516.5 475.2H520.5" stroke="#6a6a6a" stroke-width="1"/>
<text x="512.1" y="478.3" font-size="9.9" text-anchor="end" fill="#222" textLength="16.4" lengthAdjust="spacingAndGlyphs">200</text>
<path d="M516.5 445.2H520.5" stroke="#6a6a6a" stroke-width="1"/>
<text x="512.1" y="448.3" font-size="9.9" text-anchor="end" fill="#222" textLength="16.4" lengthAdjust="spacingAndGlyphs">300</text>
<path d="M516.5 415.2H520.5" stroke="#6a6a6a" stroke-width="1"/>
<text x="512.1" y="418.3" font-size="9.9" text-anchor="end" fill="#222" textLength="16.4" lengthAdjust="spacingAndGlyphs">400</text>
<path d="M524.7 535.2V539.6" stroke="#6a6a6a" stroke-width="1"/>
<text x="525.0" y="551.9" font-size="9.9" text-anchor="middle" fill="#222" textLength="17.2" lengthAdjust="spacingAndGlyphs">−0.8</text>
<path d="M558.9 535.2V539.6" stroke="#6a6a6a" stroke-width="1"/>
<text x="559.2" y="551.9" font-size="9.9" text-anchor="middle" fill="#222" textLength="14.2" lengthAdjust="spacingAndGlyphs">−1.2</text>
<path d="M593.2 535.2V539.6" stroke="#6a6a6a" stroke-width="1"/>
<text x="593.5" y="551.9" font-size="9.9" text-anchor="middle" fill="#222" textLength="14.6" lengthAdjust="spacingAndGlyphs">−1.6</text>
<path d="M632.4 535.2V539.6" stroke="#6a6a6a" stroke-width="1"/>
<text x="632.7" y="551.9" font-size="9.9" text-anchor="middle" fill="#222" textLength="12.4" lengthAdjust="spacingAndGlyphs">−1.1</text>
<path d="M672.5 535.2V539.6" stroke="#6a6a6a" stroke-width="1"/>
<text x="672.8" y="551.9" font-size="9.9" text-anchor="middle" fill="#222" textLength="14.4" lengthAdjust="spacingAndGlyphs">−1.3</text>
<path d="M602.3 406.9V535.2" stroke="#6a6a6a" stroke-width="0.75" stroke-dasharray="3.6 2.0" fill="none"/>
<text x="601.4" y="566.7" font-size="10.3" text-anchor="middle" fill="#111" textLength="114.8" lengthAdjust="spacingAndGlyphs">Potential (V versus RHE)</text>
<text x="473.5" y="471.4" font-size="10.3" text-anchor="middle" fill="#111" textLength="129.1" lengthAdjust="spacingAndGlyphs" transform="rotate(-90 473.5 471.4)">C<tspan dy="2.88" font-size="6.39">2</tspan><tspan dy="-2.88">H</tspan><tspan dy="2.88" font-size="6.39">4</tspan><tspan dy="-2.88"> partial current density</tspan></text>
<text x="487.0" y="470.1" font-size="10.3" text-anchor="middle" fill="#111" textLength="49.2" lengthAdjust="spacingAndGlyphs" transform="rotate(-90 487.0 470.1)">(mA cm<tspan dy="-3.91" font-size="6.39">−2</tspan><tspan dy="3.91">)</tspan></text>
<text x="523.7" y="416.9" font-size="10.3" fill="#111" textLength="31.5" lengthAdjust="spacingAndGlyphs">CO<tspan dy="2.88" font-size="6.39">2</tspan><tspan dy="-2.88">RR</tspan></text>
<text x="611.0" y="416.9" font-size="10.3" fill="#111" textLength="27.8" lengthAdjust="spacingAndGlyphs">CORR</text>
<path d="M525.0 496.6H532.0M525.0 495.0V498.2M532.0 495.0V498.2M538.8 467.4H545.8M538.8 465.8V469.0M545.8 465.8V469.0M544.6 437.4H552.2M544.6 435.8V439.0M552.2 435.8V439.0" stroke="#ee5a5f" stroke-width="0.7" fill="none"/>
<path d="M528.5 496.6 L542.3 467.4 L548.4 437.4" stroke="#ee5a5f" stroke-width="1.1" fill="none" stroke-linejoin="round"/>
<radialGradient id="grf" cx="0.4" cy="0.35" r="0.7"><stop offset="0" stop-color="#f9a3a5"/><stop offset="0.5" stop-color="#ee5a5f"/><stop offset="1" stop-color="#d2454b"/></radialGradient>
<circle cx="528.5" cy="496.6" r="2.4" fill="url(#grf)"/>
<circle cx="542.3" cy="467.4" r="2.4" fill="url(#grf)"/>
<circle cx="548.4" cy="437.4" r="2.4" fill="url(#grf)"/>
<path d="M550.6 508.9H557.6M550.6 507.3V510.5M557.6 507.3V510.5M556.5 486.3H563.5M556.5 484.7V487.9M563.5 484.7V487.9M565.3 466.4H572.3M565.3 464.8V468.0M572.3 464.8V468.0M568.8 462.4V470.4M567.2 462.4H570.4M567.2 470.4H570.4" stroke="#2f7f9f" stroke-width="0.7" fill="none"/>
<path d="M554.1 508.9 L560.0 486.3 L568.8 466.4" stroke="#2f7f9f" stroke-width="1.1" fill="none" stroke-linejoin="round"/>
<rect x="551.8" y="506.6" width="4.6" height="4.6" rx="0.8" fill="#2f7f9f"/>
<rect x="557.7" y="484.0" width="4.6" height="4.6" rx="0.8" fill="#2f7f9f"/>
<rect x="566.5" y="464.1" width="4.6" height="4.6" rx="0.8" fill="#2f7f9f"/>
<path d="M611.3 494.7H629.3M611.3 493.1V496.3M629.3 493.1V496.3M629.1 472.5H642.5M629.1 470.9V474.1M642.5 470.9V474.1M635.8 467.5V477.5M634.2 467.5H637.4M634.2 477.5H637.4M644.1 454.8H655.1M644.1 453.2V456.4M655.1 453.2V456.4M649.6 448.4V461.2M648.0 448.4H651.2M648.0 461.2H651.2" stroke="#f27f80" stroke-width="0.7" fill="none"/>
<path d="M620.3 494.7 L635.8 472.5 L649.6 454.8" stroke="#f27f80" stroke-width="1.0" fill="none" stroke-linejoin="round"/>
<circle cx="620.3" cy="494.7" r="2.2" fill="#fff" stroke="#f27f80" stroke-width="0.9"/>
<circle cx="635.8" cy="472.5" r="2.2" fill="#fff" stroke="#f27f80" stroke-width="0.9"/>
<circle cx="649.6" cy="454.8" r="2.2" fill="#fff" stroke="#f27f80" stroke-width="0.9"/>
<path d="M619.9 490.2H637.9M619.9 488.6V491.8M637.9 488.6V491.8M634.2 466.4H646.2M634.2 464.8V468.0M646.2 464.8V468.0M651.7 436.9H667.1M651.7 435.3V438.5M667.1 435.3V438.5M659.4 431.9V441.9M657.8 431.9H661.0M657.8 441.9H661.0" stroke="#4f94b8" stroke-width="0.7" fill="none"/>
<path d="M628.9 490.2 L640.2 466.4 L659.4 436.9" stroke="#4f94b8" stroke-width="1.0" fill="none" stroke-linejoin="round"/>
<rect x="626.8" y="488.1" width="4.2" height="4.2" fill="#fff" stroke="#4f94b8" stroke-width="0.9"/>
<rect x="638.1" y="464.3" width="4.2" height="4.2" fill="#fff" stroke="#4f94b8" stroke-width="0.9"/>
<rect x="657.3" y="434.8" width="4.2" height="4.2" fill="#fff" stroke="#4f94b8" stroke-width="0.9"/>
<text x="537.7" y="437.4" font-size="9.3" fill="#ee5a5f">I<tspan dy="-3.53" font-size="5.77">−</tspan></text>
<text x="561.7" y="514.3" font-size="9.3" fill="#2f7f9f" textLength="20.9" lengthAdjust="spacingAndGlyphs">SO<tspan dy="2.60" font-size="5.77">4</tspan><tspan dy="-6.14" font-size="5.77">2−</tspan></text>
<text x="634.8" y="451.1" font-size="9.3" fill="#f27f80">I<tspan dy="-3.53" font-size="5.77">−</tspan></text>
<text x="642.5" y="493.0" font-size="9.3" fill="#6aa6c8" textLength="21.3" lengthAdjust="spacingAndGlyphs">SO<tspan dy="2.60" font-size="5.77">4</tspan><tspan dy="-6.14" font-size="5.77">2−</tspan></text>
</svg>
</body></html>
